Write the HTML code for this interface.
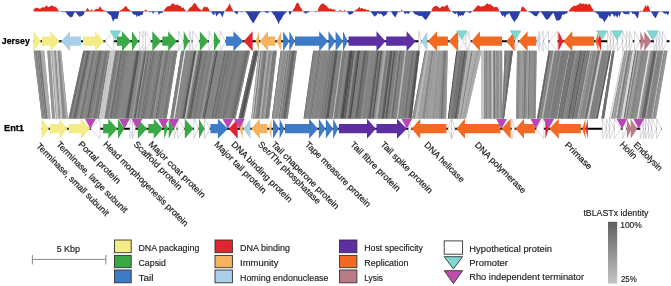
<!DOCTYPE html>
<html><head><meta charset="utf-8"><title>Genome comparison</title>
<style>html,body{margin:0;padding:0;background:#fff}svg{display:block}</style></head>
<body>
<svg width="671" height="286" viewBox="0 0 671 286" font-family="'Liberation Sans', sans-serif" fill="#1a1a1a">
<rect width="671" height="286" fill="#fff"/>
<g id="skew" shape-rendering="auto">
<rect x="60.04" y="11.45" width="0.45" height="0.7" fill="#2c3ea8"/>
<rect x="61.98" y="11.45" width="23.40" height="0.7" fill="#2c3ea8"/>
<rect x="106.24" y="11.45" width="13.31" height="0.7" fill="#2c3ea8"/>
<rect x="131.18" y="11.45" width="12.67" height="0.7" fill="#2c3ea8"/>
<rect x="148.32" y="11.45" width="14.90" height="0.7" fill="#2c3ea8"/>
<rect x="186.32" y="11.45" width="1.49" height="0.7" fill="#2c3ea8"/>
<rect x="210.16" y="11.45" width="14.52" height="0.7" fill="#2c3ea8"/>
<rect x="233.63" y="11.45" width="4.92" height="0.7" fill="#2c3ea8"/>
<rect x="239.44" y="11.45" width="4.62" height="0.7" fill="#2c3ea8"/>
<rect x="244.96" y="11.45" width="17.44" height="0.7" fill="#2c3ea8"/>
<rect x="263.29" y="11.45" width="6.26" height="0.7" fill="#2c3ea8"/>
<rect x="270.44" y="11.45" width="16.69" height="0.7" fill="#2c3ea8"/>
<rect x="288.32" y="11.45" width="4.17" height="0.7" fill="#2c3ea8"/>
<rect x="302.93" y="11.45" width="7.15" height="0.7" fill="#2c3ea8"/>
<rect x="314.47" y="11.45" width="2.98" height="0.7" fill="#2c3ea8"/>
<rect x="336.83" y="11.45" width="2.24" height="0.7" fill="#2c3ea8"/>
<rect x="342.04" y="11.45" width="1.49" height="0.7" fill="#2c3ea8"/>
<rect x="346.51" y="11.45" width="7.45" height="0.7" fill="#2c3ea8"/>
<rect x="370.36" y="11.45" width="18.33" height="0.7" fill="#2c3ea8"/>
<rect x="389.88" y="11.45" width="10.86" height="0.7" fill="#2c3ea8"/>
<rect x="402.98" y="11.45" width="7.75" height="0.7" fill="#2c3ea8"/>
<rect x="412.52" y="11.45" width="18.78" height="0.7" fill="#2c3ea8"/>
<rect x="451.86" y="11.45" width="20.42" height="0.7" fill="#2c3ea8"/>
<rect x="499.24" y="11.45" width="21.31" height="0.7" fill="#2c3ea8"/>
<rect x="528.00" y="11.45" width="40.24" height="0.7" fill="#2c3ea8"/>
<rect x="594.03" y="11.45" width="45.64" height="0.7" fill="#2c3ea8"/>
<rect x="641.09" y="11.45" width="1.14" height="0.7" fill="#2c3ea8"/>
<rect x="650.39" y="11.45" width="9.87" height="0.7" fill="#2c3ea8"/>
<rect x="661.41" y="11.45" width="7.59" height="0.7" fill="#2c3ea8"/>
<polygon points="33.66,11.62 33.66,9.24 36.20,7.45 38.43,8.20 39.92,8.94 42.16,7.15 44.39,7.45 46.63,5.22 48.12,7.15 50.35,6.26 51.85,5.22 54.08,6.71 55.57,6.71 57.06,8.20 58.55,10.73 60.04,11.62 60.04,11.62" fill="#e2261c"/>
<polygon points="60.49,11.62 60.49,11.62 61.08,10.43 61.98,11.62 61.98,11.62" fill="#e2261c"/>
<polygon points="65.26,11.62 65.26,11.62 67.05,14.16 68.98,16.10 70.47,17.59 72.71,16.39 74.20,12.67 75.69,11.92 77.18,14.16 79.42,16.69 81.65,16.10 83.44,14.90 84.63,11.92 84.63,11.62" fill="#2c3ea8"/>
<polygon points="85.38,11.62 85.38,11.62 86.87,8.64 87.61,7.75 89.10,10.43 90.59,10.73 91.79,8.94 92.83,11.18 94.32,10.13 96.55,8.64 98.04,9.24 100.28,6.26 101.77,9.24 104.01,10.43 105.50,10.43 106.24,11.62 106.24,11.62" fill="#e2261c"/>
<polygon points="106.99,11.62 106.99,12.22 109.22,14.61 110.71,14.90 112.20,19.37 113.25,22.06 114.44,19.08 115.93,18.63 117.42,19.37 118.91,13.41 119.21,11.62 119.21,11.62" fill="#2c3ea8"/>
<polygon points="119.55,11.62 119.55,11.62 120.00,9.69 121.49,10.43 122.24,8.94 123.73,8.20 125.66,5.96 126.71,6.71 128.20,9.24 129.69,9.69 131.18,11.62 131.18,11.62" fill="#e2261c"/>
<polygon points="131.92,11.62 131.92,11.62 132.67,13.41 134.16,14.90 135.65,14.61 136.69,17.59 137.59,14.90 139.08,16.69 140.12,14.90 142.35,14.90 143.10,12.67 143.55,11.62 143.55,11.62" fill="#2c3ea8"/>
<polygon points="143.85,11.62 143.85,11.62 144.59,10.43 146.08,9.24 146.83,10.73 148.32,11.62 148.32,11.62" fill="#e2261c"/>
<polygon points="152.04,11.62 152.04,11.62 153.08,14.16 153.98,11.92 155.02,11.62 155.02,11.62" fill="#2c3ea8"/>
<polygon points="158.00,11.62 158.00,11.62 158.75,15.20 159.64,13.41 160.98,13.11 162.47,12.67 162.92,11.62 162.92,11.62" fill="#2c3ea8"/>
<polygon points="163.22,11.62 163.22,11.62 164.71,9.24 166.20,7.45 167.69,6.26 169.93,5.96 171.42,4.47 172.91,2.98 174.40,4.47 175.89,5.22 177.38,4.17 178.87,5.66 180.36,5.96 181.85,7.75 183.34,7.45 184.83,9.69 186.32,11.62 186.32,11.62" fill="#e2261c"/>
<polygon points="187.81,11.62 187.81,11.62 188.55,9.24 190.04,7.45 191.54,6.71 193.03,4.77 194.52,2.68 196.01,4.17 197.50,6.71 198.99,8.20 200.48,9.69 201.97,10.13 203.46,7.45 204.65,6.26 205.69,7.45 207.18,6.71 208.67,8.94 210.16,11.62 210.16,11.62" fill="#e2261c"/>
<polygon points="211.21,11.62 211.21,11.62 212.40,13.41 213.14,14.90 214.63,14.16 214.63,11.62" fill="#2c3ea8"/>
<polygon points="214.55,11.62 214.55,14.16 215.00,12.22 216.49,16.39 217.98,14.16 219.47,12.67 220.96,14.16 222.45,17.59 223.64,13.41 224.24,11.62 224.24,11.62" fill="#2c3ea8"/>
<polygon points="224.69,11.62 224.69,11.62 226.18,8.94 227.67,7.15 229.16,4.47 229.90,2.98 230.65,5.96 232.14,8.94 233.63,11.62 233.63,11.62" fill="#e2261c"/>
<polygon points="234.08,11.62 234.08,11.62 235.86,13.41 237.35,14.61 238.10,11.92 238.10,11.62" fill="#2c3ea8"/>
<polygon points="238.55,11.62 238.55,11.62 238.99,10.73 239.44,11.62 239.44,11.62" fill="#e2261c"/>
<polygon points="244.06,11.62 244.06,11.62 244.51,10.88 244.96,11.62 244.96,11.62" fill="#e2261c"/>
<polygon points="245.55,11.62 245.55,11.62 247.04,13.41 248.53,15.65 250.02,18.63 251.51,20.86 253.00,23.55 254.05,22.35 255.24,20.12 256.73,17.59 258.22,14.90 259.71,12.67 260.45,11.62 260.45,11.62" fill="#2c3ea8"/>
<polygon points="262.39,11.62 262.39,11.62 262.84,10.88 263.29,11.62 263.29,11.62" fill="#e2261c"/>
<polygon points="264.93,11.62 264.93,11.62 266.42,13.11 267.91,12.67 269.40,11.62 269.40,11.62" fill="#2c3ea8"/>
<polygon points="269.55,11.62 269.55,11.62 269.99,10.88 270.44,11.62 270.44,11.62" fill="#e2261c"/>
<polygon points="271.63,11.62 271.63,11.62 273.12,14.16 274.61,15.65 276.10,18.63 277.59,21.61 278.79,24.59 279.83,20.86 281.32,19.37 282.81,16.39 284.30,14.16 285.79,12.67 286.54,11.62 286.54,11.62" fill="#2c3ea8"/>
<polygon points="287.13,11.62 287.13,11.62 287.73,10.43 288.32,11.62 288.32,11.62" fill="#e2261c"/>
<polygon points="288.77,11.62 288.77,11.62 289.52,14.90 291.01,13.41 291.75,11.62 291.75,11.62" fill="#2c3ea8"/>
<polygon points="292.50,11.62 292.50,11.62 293.24,9.24 294.73,7.45 296.22,3.73 297.71,2.68 299.20,4.17 299.95,6.71 301.44,8.20 302.93,11.62 302.93,11.62" fill="#e2261c"/>
<polygon points="303.67,11.62 303.67,11.62 305.16,13.71 306.65,13.11 308.14,12.22 309.63,11.62 309.63,11.62" fill="#2c3ea8"/>
<polygon points="310.08,11.62 310.08,11.62 310.53,10.88 310.98,11.62 310.98,11.62" fill="#e2261c"/>
<polygon points="312.76,11.62 312.76,11.62 313.36,10.88 313.96,11.62 313.96,11.62" fill="#e2261c"/>
<polygon points="310.75,11.62 310.75,11.62 311.49,11.03 312.98,11.18 314.47,11.62 314.47,11.62" fill="#e2261c"/>
<polygon points="317.45,11.62 317.45,11.62 318.20,8.94 319.69,5.96 321.18,4.17 323.11,3.28 324.90,4.77 326.39,5.66 327.88,7.45 329.37,8.94 330.86,8.20 332.35,9.69 333.85,8.94 335.34,10.13 336.83,11.62 336.83,11.62" fill="#e2261c"/>
<polygon points="339.06,11.62 339.06,11.62 339.81,9.69 341.30,10.43 342.04,11.62 342.04,11.62" fill="#e2261c"/>
<polygon points="343.53,11.62 343.53,11.62 344.28,9.69 345.77,11.18 346.51,11.62 346.51,11.62" fill="#e2261c"/>
<polygon points="347.26,11.62 347.26,11.62 348.75,14.16 349.94,14.90 350.98,13.71 352.03,14.61 352.92,12.67 353.52,11.62 353.52,11.62" fill="#2c3ea8"/>
<polygon points="353.96,11.62 353.96,11.62 355.45,10.13 356.94,9.24 358.44,8.20 359.48,6.71 360.67,8.64 362.16,7.75 363.65,9.24 365.14,8.64 366.63,10.13 368.12,9.69 369.61,10.73 370.36,11.62 370.36,11.62" fill="#e2261c"/>
<polygon points="370.36,11.62 370.36,11.62 371.85,13.11 373.34,14.90 374.38,16.69 375.57,15.65 376.77,14.90 377.81,12.67 379.30,14.16 380.79,13.41 382.28,14.90 383.77,16.69 385.26,14.90 386.75,14.16 387.50,11.62 387.50,11.62" fill="#2c3ea8"/>
<polygon points="388.69,11.62 388.69,11.62 389.28,10.88 389.88,11.62 389.88,11.62" fill="#e2261c"/>
<polygon points="391.22,11.62 391.22,11.62 392.71,14.16 394.20,16.10 395.25,17.59 396.14,15.65 397.18,13.41 397.93,11.62 397.93,11.62" fill="#2c3ea8"/>
<polygon points="400.75,11.62 400.75,11.62 401.79,9.24 402.98,11.62 402.98,11.62" fill="#e2261c"/>
<polygon points="403.73,11.62 403.73,11.62 405.22,14.61 406.71,12.67 408.20,14.16 409.69,12.22 410.43,11.62 410.43,11.62" fill="#2c3ea8"/>
<polygon points="410.73,11.62 410.73,11.62 411.62,10.73 412.52,11.62 412.52,11.62" fill="#e2261c"/>
<polygon points="412.67,11.62 412.67,11.62 414.16,13.41 415.65,14.61 417.14,14.90 418.63,15.65 420.12,16.10 421.61,15.65 423.10,17.14 424.59,19.08 425.63,20.12 426.83,18.63 428.32,16.39 429.81,14.16 431.00,11.62 431.00,11.62" fill="#2c3ea8"/>
<polygon points="431.30,11.62 431.30,11.62 432.04,8.94 433.53,6.71 435.02,6.26 436.51,5.66 438.00,6.71 439.49,8.20 440.98,7.15 442.47,5.96 443.96,6.71 445.45,6.26 446.94,4.47 447.99,5.96 449.18,9.24 450.67,10.73 451.86,11.62 451.86,11.62" fill="#e2261c"/>
<polygon points="452.16,11.62 452.16,11.62 453.65,13.11 455.14,14.16 456.63,12.67 457.82,14.90 458.42,17.59 459.31,14.90 460.36,16.10 461.85,14.90 463.34,15.65 464.38,13.41 465.57,11.62 465.57,11.62" fill="#2c3ea8"/>
<polygon points="467.81,11.62 467.81,11.62 469.30,13.11 470.79,12.67 471.83,11.62 471.83,11.62" fill="#2c3ea8"/>
<polygon points="472.28,11.62 472.28,11.62 473.77,9.69 475.26,8.20 476.75,6.26 478.24,5.22 479.73,6.26 481.22,6.71 482.71,5.96 484.20,6.26 485.69,4.77 487.18,3.28 488.67,4.47 490.16,4.17 491.21,4.47 491.21,11.62" fill="#e2261c"/>
<polygon points="490.15,11.62 490.15,4.32 491.49,5.66 492.98,6.26 494.47,7.45 495.96,6.71 497.45,7.15 498.64,9.24 499.24,11.62 499.24,11.62" fill="#e2261c"/>
<polygon points="500.13,11.62 500.13,11.62 501.18,14.16 502.67,16.39 503.71,14.90 504.90,17.88 506.10,14.90 507.59,14.16 509.08,13.11 510.57,15.65 512.06,18.63 513.55,20.86 514.59,22.35 515.63,20.12 517.12,18.63 518.61,15.65 519.81,12.67 520.25,11.62 520.25,11.62" fill="#2c3ea8"/>
<polygon points="520.55,11.62 520.55,11.62 521.30,8.20 522.49,6.26 523.98,7.45 525.47,8.94 526.96,10.73 528.00,11.62 528.00,11.62" fill="#e2261c"/>
<polygon points="529.49,11.62 529.49,11.62 530.98,13.11 532.47,13.71 533.52,15.20 534.71,15.65 536.20,16.39 537.69,14.90 538.88,12.67 539.93,11.62 539.93,11.62" fill="#2c3ea8"/>
<polygon points="540.67,11.62 540.67,11.62 542.16,13.41 543.65,15.65 545.14,17.88 546.63,20.12 547.82,19.37 549.31,17.88 550.80,15.65 552.30,13.71 553.34,12.67 554.38,14.90 555.57,18.63 556.77,20.86 558.26,20.57 559.75,20.12 561.24,17.88 562.28,14.16 563.77,14.90 565.26,13.41 566.75,13.71 567.79,11.62 567.79,11.62" fill="#2c3ea8"/>
<polygon points="568.24,11.62 568.24,11.62 569.73,9.69 571.22,7.45 572.71,6.71 574.20,5.22 574.95,5.96 575.99,6.11 575.99,11.62" fill="#e2261c"/>
<polygon points="575.00,11.73 575.00,6.44 576.43,5.44 577.86,5.01 579.29,4.01 580.44,2.86 581.87,4.29 583.30,3.15 584.73,4.58 586.16,3.58 587.59,5.01 589.02,3.58 590.45,5.01 591.88,7.87 593.31,10.01 594.03,11.73 594.03,11.73" fill="#e2261c"/>
<polygon points="594.74,11.73 594.74,11.73 596.46,13.16 598.18,14.31 599.61,17.88 601.04,18.31 602.90,19.31 604.33,22.60 605.76,20.03 607.19,17.88 608.62,15.02 610.05,17.17 611.48,13.59 612.91,14.31 614.34,16.88 615.77,15.02 617.20,17.88 618.63,14.31 619.64,17.17 620.49,13.59 621.07,11.73 621.07,11.73" fill="#2c3ea8"/>
<polygon points="622.21,11.73 622.21,11.73 623.64,13.59 625.07,14.02 626.50,14.59 627.93,13.59 629.08,15.02 629.65,11.73 629.65,11.73" fill="#2c3ea8"/>
<polygon points="631.51,11.73 631.51,11.73 632.51,14.31 633.66,13.59 634.80,14.31 635.80,15.74 636.80,17.17 637.95,18.60 638.66,14.31 639.09,11.73 639.09,11.73" fill="#2c3ea8"/>
<polygon points="639.66,11.73 639.66,11.73 640.52,10.30 641.09,11.73 641.09,11.73" fill="#e2261c"/>
<polygon points="642.24,11.73 642.24,11.73 643.38,9.30 644.38,7.87 645.39,5.01 646.53,7.15 647.68,5.01 648.68,6.44 649.39,8.87 650.39,11.73 650.39,11.73" fill="#e2261c"/>
<polygon points="650.82,11.73 650.82,11.73 652.25,13.59 653.40,15.74 654.83,17.45 655.83,17.88 656.83,15.74 657.98,13.16 658.69,11.73 658.69,11.73" fill="#2c3ea8"/>
<polygon points="660.26,11.73 660.26,11.73 660.84,11.02 661.41,11.73 661.41,11.73" fill="#e2261c"/>
<polygon points="662.55,11.73 662.55,11.73 663.98,13.16 665.41,14.02 666.56,13.16 667.99,15.45 668.71,13.59 669.13,11.73 669.13,11.73" fill="#2c3ea8"/>
</g>
<g id="band">
<polygon points="33.60,50.80 44.00,50.80 50.50,118.50 41.80,118.50" fill="#8d8d8d"/>
<polygon points="33.60,50.80 34.24,50.80 42.38,118.50 41.80,118.50" fill="#909090"/>
<polygon points="33.99,50.80 34.45,50.80 42.55,118.50 42.13,118.50" fill="#8e8e8e"/>
<polygon points="34.20,50.80 34.60,50.80 42.68,118.50 42.30,118.50" fill="#929292"/>
<polygon points="34.35,50.80 35.42,50.80 43.36,118.50 42.43,118.50" fill="#919191"/>
<polygon points="35.17,50.80 37.22,50.80 44.87,118.50 43.11,118.50" fill="#848484"/>
<polygon points="36.97,50.80 37.65,50.80 45.23,118.50 44.62,118.50" fill="#a9a9a9"/>
<polygon points="37.40,50.80 38.36,50.80 45.82,118.50 44.98,118.50" fill="#686868"/>
<polygon points="38.11,50.80 39.13,50.80 46.46,118.50 45.57,118.50" fill="#929292"/>
<polygon points="38.88,50.80 39.42,50.80 46.71,118.50 46.21,118.50" fill="#8b8b8b"/>
<polygon points="39.17,50.80 40.62,50.80 47.71,118.50 46.46,118.50" fill="#6e6e6e"/>
<polygon points="40.37,50.80 44.25,50.80 50.75,118.50 47.46,118.50" fill="#ababab"/>
<polygon points="47.30,50.80 56.00,50.80 60.50,118.50 52.20,118.50" fill="#959595"/>
<polygon points="47.30,50.80 49.11,50.80 53.94,118.50 52.20,118.50" fill="#939393"/>
<polygon points="48.86,50.80 49.71,50.80 54.51,118.50 53.69,118.50" fill="#9c9c9c"/>
<polygon points="49.46,50.80 50.70,50.80 55.45,118.50 54.26,118.50" fill="#999999"/>
<polygon points="50.45,50.80 51.60,50.80 56.31,118.50 55.20,118.50" fill="#dedede"/>
<polygon points="51.35,50.80 51.87,50.80 56.57,118.50 56.06,118.50" fill="#999999"/>
<polygon points="51.62,50.80 52.18,50.80 56.86,118.50 56.32,118.50" fill="#959595"/>
<polygon points="51.93,50.80 54.31,50.80 58.90,118.50 56.61,118.50" fill="#c2c2c2"/>
<polygon points="54.06,50.80 55.58,50.80 60.11,118.50 58.65,118.50" fill="#969696"/>
<polygon points="55.33,50.80 56.25,50.80 60.75,118.50 59.86,118.50" fill="#888888"/>
<polygon points="56.00,50.80 58.00,50.80 62.50,118.50 60.50,118.50" fill="#c8c8c8"/>
<polygon points="56.00,50.80 57.64,50.80 62.14,118.50 60.50,118.50" fill="#bfbfbf"/>
<polygon points="57.39,50.80 58.25,50.80 62.75,118.50 61.89,118.50" fill="#c2c2c2"/>
<polygon points="58.00,50.80 60.90,50.80 67.70,118.50 62.50,118.50" fill="#959595"/>
<polygon points="58.00,50.80 58.43,50.80 63.07,118.50 62.50,118.50" fill="#919191"/>
<polygon points="58.18,50.80 59.62,50.80 65.22,118.50 62.82,118.50" fill="#898989"/>
<polygon points="59.37,50.80 60.18,50.80 66.20,118.50 64.97,118.50" fill="#939393"/>
<polygon points="59.93,50.80 60.99,50.80 67.66,118.50 65.95,118.50" fill="#b3b3b3"/>
<polygon points="60.74,50.80 61.15,50.80 67.95,118.50 67.41,118.50" fill="#8e8e8e"/>
<polygon points="83.30,50.80 110.00,50.80 99.00,118.50 68.50,118.50" fill="#838383"/>
<polygon points="83.30,50.80 83.87,50.80 69.12,118.50 68.50,118.50" fill="#8d8d8d"/>
<polygon points="83.62,50.80 85.77,50.80 71.28,118.50 68.87,118.50" fill="#6f6f6f"/>
<polygon points="85.52,50.80 86.90,50.80 72.58,118.50 71.03,118.50" fill="#888888"/>
<polygon points="86.65,50.80 87.21,50.80 72.93,118.50 72.33,118.50" fill="#797979"/>
<polygon points="86.96,50.80 87.44,50.80 73.19,118.50 72.68,118.50" fill="#7f7f7f"/>
<polygon points="87.19,50.80 87.59,50.80 73.36,118.50 72.94,118.50" fill="#7d7d7d"/>
<polygon points="87.34,50.80 87.99,50.80 73.82,118.50 73.11,118.50" fill="#868686"/>
<polygon points="87.74,50.80 88.42,50.80 74.31,118.50 73.57,118.50" fill="#555555"/>
<polygon points="88.17,50.80 89.38,50.80 75.41,118.50 74.06,118.50" fill="#646464"/>
<polygon points="89.13,50.80 89.71,50.80 75.79,118.50 75.16,118.50" fill="#616161"/>
<polygon points="89.46,50.80 90.97,50.80 77.22,118.50 75.54,118.50" fill="#7e7e7e"/>
<polygon points="90.72,50.80 91.08,50.80 77.35,118.50 76.97,118.50" fill="#878787"/>
<polygon points="90.83,50.80 91.22,50.80 77.52,118.50 77.10,118.50" fill="#898989"/>
<polygon points="90.97,50.80 92.06,50.80 78.47,118.50 77.27,118.50" fill="#909090"/>
<polygon points="91.81,50.80 93.71,50.80 80.35,118.50 78.22,118.50" fill="#909090"/>
<polygon points="93.46,50.80 94.17,50.80 80.89,118.50 80.10,118.50" fill="#5d5d5d"/>
<polygon points="93.92,50.80 94.27,50.80 81.00,118.50 80.64,118.50" fill="#838383"/>
<polygon points="94.02,50.80 95.04,50.80 81.88,118.50 80.75,118.50" fill="#737373"/>
<polygon points="94.79,50.80 96.81,50.80 83.89,118.50 81.63,118.50" fill="#858585"/>
<polygon points="96.56,50.80 97.82,50.80 85.06,118.50 83.64,118.50" fill="#8c8c8c"/>
<polygon points="97.57,50.80 98.24,50.80 85.53,118.50 84.81,118.50" fill="#808080"/>
<polygon points="97.99,50.80 99.83,50.80 87.35,118.50 85.28,118.50" fill="#838383"/>
<polygon points="99.58,50.80 101.04,50.80 88.73,118.50 87.10,118.50" fill="#5f5f5f"/>
<polygon points="100.79,50.80 101.13,50.80 88.83,118.50 88.48,118.50" fill="#6d6d6d"/>
<polygon points="100.88,50.80 101.78,50.80 89.57,118.50 88.58,118.50" fill="#808080"/>
<polygon points="101.53,50.80 102.41,50.80 90.30,118.50 89.32,118.50" fill="#777777"/>
<polygon points="102.16,50.80 103.26,50.80 91.27,118.50 90.05,118.50" fill="#7f7f7f"/>
<polygon points="103.01,50.80 105.74,50.80 94.10,118.50 91.02,118.50" fill="#878787"/>
<polygon points="105.49,50.80 106.49,50.80 94.96,118.50 93.85,118.50" fill="#727272"/>
<polygon points="106.24,50.80 108.03,50.80 96.71,118.50 94.71,118.50" fill="#747474"/>
<polygon points="107.78,50.80 108.92,50.80 97.73,118.50 96.46,118.50" fill="#8d8d8d"/>
<polygon points="108.67,50.80 109.89,50.80 98.84,118.50 97.48,118.50" fill="#7f7f7f"/>
<polygon points="109.64,50.80 110.25,50.80 99.25,118.50 98.59,118.50" fill="#646464"/>
<polygon points="110.00,50.80 115.50,50.80 104.50,118.50 99.00,118.50" fill="#c8c8c8"/>
<polygon points="110.00,50.80 111.32,50.80 100.32,118.50 99.00,118.50" fill="#cccccc"/>
<polygon points="111.07,50.80 112.14,50.80 101.14,118.50 100.07,118.50" fill="#bcbcbc"/>
<polygon points="111.89,50.80 113.58,50.80 102.58,118.50 100.89,118.50" fill="#cbcbcb"/>
<polygon points="113.33,50.80 115.75,50.80 104.75,118.50 102.33,118.50" fill="#c9c9c9"/>
<polygon points="115.50,50.80 177.30,50.80 166.50,118.50 104.50,118.50" fill="#818181"/>
<polygon points="115.50,50.80 115.87,50.80 104.87,118.50 104.50,118.50" fill="#838383"/>
<polygon points="115.62,50.80 117.07,50.80 106.08,118.50 104.62,118.50" fill="#838383"/>
<polygon points="116.82,50.80 117.45,50.80 106.46,118.50 105.83,118.50" fill="#6f6f6f"/>
<polygon points="117.20,50.80 117.48,50.80 106.49,118.50 106.21,118.50" fill="#5f5f5f"/>
<polygon points="117.23,50.80 119.51,50.80 108.53,118.50 106.24,118.50" fill="#7e7e7e"/>
<polygon points="119.26,50.80 121.00,50.80 110.01,118.50 108.28,118.50" fill="#919191"/>
<polygon points="120.75,50.80 121.11,50.80 110.13,118.50 109.76,118.50" fill="#828282"/>
<polygon points="120.86,50.80 122.10,50.80 111.12,118.50 109.88,118.50" fill="#6a6a6a"/>
<polygon points="121.85,50.80 123.16,50.80 112.18,118.50 110.87,118.50" fill="#757575"/>
<polygon points="122.91,50.80 123.83,50.80 112.86,118.50 111.93,118.50" fill="#808080"/>
<polygon points="123.58,50.80 124.36,50.80 113.38,118.50 112.61,118.50" fill="#757575"/>
<polygon points="124.11,50.80 124.50,50.80 113.53,118.50 113.13,118.50" fill="#7e7e7e"/>
<polygon points="124.25,50.80 125.01,50.80 114.04,118.50 113.28,118.50" fill="#929292"/>
<polygon points="124.76,50.80 125.13,50.80 114.16,118.50 113.79,118.50" fill="#707070"/>
<polygon points="124.88,50.80 125.39,50.80 114.42,118.50 113.91,118.50" fill="#626262"/>
<polygon points="125.14,50.80 125.57,50.80 114.60,118.50 114.17,118.50" fill="#7a7a7a"/>
<polygon points="125.32,50.80 127.79,50.80 116.83,118.50 114.35,118.50" fill="#7a7a7a"/>
<polygon points="127.54,50.80 128.07,50.80 117.11,118.50 116.58,118.50" fill="#8e8e8e"/>
<polygon points="127.82,50.80 128.90,50.80 117.94,118.50 116.86,118.50" fill="#7f7f7f"/>
<polygon points="128.65,50.80 135.90,50.80 124.96,118.50 117.69,118.50" fill="#858585"/>
<polygon points="135.65,50.80 137.01,50.80 126.08,118.50 124.71,118.50" fill="#7b7b7b"/>
<polygon points="136.76,50.80 139.76,50.80 128.84,118.50 125.83,118.50" fill="#575757"/>
<polygon points="139.51,50.80 142.57,50.80 131.65,118.50 128.59,118.50" fill="#858585"/>
<polygon points="142.32,50.80 144.37,50.80 133.47,118.50 131.40,118.50" fill="#999999"/>
<polygon points="144.12,50.80 144.51,50.80 133.60,118.50 133.22,118.50" fill="#585858"/>
<polygon points="144.26,50.80 145.07,50.80 134.16,118.50 133.35,118.50" fill="#7f7f7f"/>
<polygon points="144.82,50.80 145.58,50.80 134.67,118.50 133.91,118.50" fill="#787878"/>
<polygon points="145.33,50.80 146.72,50.80 135.82,118.50 134.42,118.50" fill="#5a5a5a"/>
<polygon points="146.47,50.80 147.30,50.80 136.40,118.50 135.57,118.50" fill="#8d8d8d"/>
<polygon points="147.05,50.80 147.69,50.80 136.79,118.50 136.15,118.50" fill="#afafaf"/>
<polygon points="147.44,50.80 149.39,50.80 138.50,118.50 136.54,118.50" fill="#787878"/>
<polygon points="149.14,50.80 149.63,50.80 138.74,118.50 138.25,118.50" fill="#5e5e5e"/>
<polygon points="149.38,50.80 152.26,50.80 141.38,118.50 138.49,118.50" fill="#858585"/>
<polygon points="152.01,50.80 152.57,50.80 141.69,118.50 141.13,118.50" fill="#4d4d4d"/>
<polygon points="152.32,50.80 153.36,50.80 142.48,118.50 141.44,118.50" fill="#888888"/>
<polygon points="153.11,50.80 153.46,50.80 142.59,118.50 142.23,118.50" fill="#909090"/>
<polygon points="153.21,50.80 153.55,50.80 142.67,118.50 142.34,118.50" fill="#767676"/>
<polygon points="153.30,50.80 154.01,50.80 143.13,118.50 142.42,118.50" fill="#6b6b6b"/>
<polygon points="153.76,50.80 155.05,50.80 144.17,118.50 142.88,118.50" fill="#757575"/>
<polygon points="154.80,50.80 155.50,50.80 144.62,118.50 143.92,118.50" fill="#7f7f7f"/>
<polygon points="155.25,50.80 156.28,50.80 145.41,118.50 144.37,118.50" fill="#828282"/>
<polygon points="156.03,50.80 156.69,50.80 145.82,118.50 145.16,118.50" fill="#7a7a7a"/>
<polygon points="156.44,50.80 159.72,50.80 148.86,118.50 145.57,118.50" fill="#858585"/>
<polygon points="159.47,50.80 160.36,50.80 149.50,118.50 148.61,118.50" fill="#818181"/>
<polygon points="160.11,50.80 160.64,50.80 149.78,118.50 149.25,118.50" fill="#656565"/>
<polygon points="160.39,50.80 161.48,50.80 150.63,118.50 149.53,118.50" fill="#888888"/>
<polygon points="161.23,50.80 161.69,50.80 150.84,118.50 150.38,118.50" fill="#6b6b6b"/>
<polygon points="161.44,50.80 162.07,50.80 151.22,118.50 150.59,118.50" fill="#555555"/>
<polygon points="161.82,50.80 162.95,50.80 152.10,118.50 150.97,118.50" fill="#7b7b7b"/>
<polygon points="162.70,50.80 163.71,50.80 152.86,118.50 151.85,118.50" fill="#6a6a6a"/>
<polygon points="163.46,50.80 163.74,50.80 152.89,118.50 152.61,118.50" fill="#8a8a8a"/>
<polygon points="163.49,50.80 165.15,50.80 154.31,118.50 152.64,118.50" fill="#969696"/>
<polygon points="164.90,50.80 166.12,50.80 155.28,118.50 154.06,118.50" fill="#838383"/>
<polygon points="165.87,50.80 166.87,50.80 156.03,118.50 155.03,118.50" fill="#8b8b8b"/>
<polygon points="166.62,50.80 167.30,50.80 156.47,118.50 155.78,118.50" fill="#656565"/>
<polygon points="167.05,50.80 167.33,50.80 156.50,118.50 156.22,118.50" fill="#626262"/>
<polygon points="167.08,50.80 169.69,50.80 158.86,118.50 156.25,118.50" fill="#7a7a7a"/>
<polygon points="169.44,50.80 169.76,50.80 158.93,118.50 158.61,118.50" fill="#7e7e7e"/>
<polygon points="169.51,50.80 170.02,50.80 159.20,118.50 158.68,118.50" fill="#8f8f8f"/>
<polygon points="169.77,50.80 170.69,50.80 159.87,118.50 158.95,118.50" fill="#8c8c8c"/>
<polygon points="170.44,50.80 171.23,50.80 160.41,118.50 159.62,118.50" fill="#868686"/>
<polygon points="170.98,50.80 171.94,50.80 161.12,118.50 160.16,118.50" fill="#787878"/>
<polygon points="171.69,50.80 173.69,50.80 162.87,118.50 160.87,118.50" fill="#8a8a8a"/>
<polygon points="173.44,50.80 174.22,50.80 163.41,118.50 162.62,118.50" fill="#7f7f7f"/>
<polygon points="173.97,50.80 176.64,50.80 165.84,118.50 163.16,118.50" fill="#7a7a7a"/>
<polygon points="176.39,50.80 176.72,50.80 165.92,118.50 165.59,118.50" fill="#616161"/>
<polygon points="176.47,50.80 177.12,50.80 166.32,118.50 165.67,118.50" fill="#8e8e8e"/>
<polygon points="176.87,50.80 177.55,50.80 166.75,118.50 166.07,118.50" fill="#828282"/>
<polygon points="181.30,50.80 250.10,50.80 235.40,118.50 170.30,118.50" fill="#818181"/>
<polygon points="181.30,50.80 181.80,50.80 170.79,118.50 170.30,118.50" fill="#848484"/>
<polygon points="181.55,50.80 182.66,50.80 171.60,118.50 170.54,118.50" fill="#7e7e7e"/>
<polygon points="182.41,50.80 182.85,50.80 171.78,118.50 171.35,118.50" fill="#6f6f6f"/>
<polygon points="182.60,50.80 183.92,50.80 172.79,118.50 171.53,118.50" fill="#838383"/>
<polygon points="183.67,50.80 184.43,50.80 173.28,118.50 172.54,118.50" fill="#818181"/>
<polygon points="184.18,50.80 184.66,50.80 173.49,118.50 173.03,118.50" fill="#797979"/>
<polygon points="184.41,50.80 185.04,50.80 173.86,118.50 173.24,118.50" fill="#838383"/>
<polygon points="184.79,50.80 185.36,50.80 174.16,118.50 173.61,118.50" fill="#7d7d7d"/>
<polygon points="185.11,50.80 186.37,50.80 175.11,118.50 173.91,118.50" fill="#8e8e8e"/>
<polygon points="186.12,50.80 187.32,50.80 176.01,118.50 174.86,118.50" fill="#858585"/>
<polygon points="187.07,50.80 187.36,50.80 176.05,118.50 175.76,118.50" fill="#797979"/>
<polygon points="187.11,50.80 187.40,50.80 176.09,118.50 175.80,118.50" fill="#8d8d8d"/>
<polygon points="187.15,50.80 187.80,50.80 176.46,118.50 175.84,118.50" fill="#888888"/>
<polygon points="187.55,50.80 191.45,50.80 179.92,118.50 176.21,118.50" fill="#898989"/>
<polygon points="191.20,50.80 191.51,50.80 179.97,118.50 179.67,118.50" fill="#868686"/>
<polygon points="191.26,50.80 192.23,50.80 180.66,118.50 179.72,118.50" fill="#858585"/>
<polygon points="191.98,50.80 194.14,50.80 182.46,118.50 180.41,118.50" fill="#7e7e7e"/>
<polygon points="193.89,50.80 194.30,50.80 182.62,118.50 182.21,118.50" fill="#8b8b8b"/>
<polygon points="194.05,50.80 196.54,50.80 184.73,118.50 182.37,118.50" fill="#565656"/>
<polygon points="196.29,50.80 198.38,50.80 186.47,118.50 184.48,118.50" fill="#b3b3b3"/>
<polygon points="198.13,50.80 198.62,50.80 186.71,118.50 186.22,118.50" fill="#8b8b8b"/>
<polygon points="198.37,50.80 199.70,50.80 187.72,118.50 186.46,118.50" fill="#868686"/>
<polygon points="199.45,50.80 200.06,50.80 188.06,118.50 187.47,118.50" fill="#707070"/>
<polygon points="199.81,50.80 200.74,50.80 188.71,118.50 187.81,118.50" fill="#636363"/>
<polygon points="200.49,50.80 201.10,50.80 189.05,118.50 188.46,118.50" fill="#888888"/>
<polygon points="200.85,50.80 202.17,50.80 190.06,118.50 188.80,118.50" fill="#515151"/>
<polygon points="201.92,50.80 203.81,50.80 191.61,118.50 189.81,118.50" fill="#6c6c6c"/>
<polygon points="203.56,50.80 204.18,50.80 191.96,118.50 191.36,118.50" fill="#7f7f7f"/>
<polygon points="203.93,50.80 204.62,50.80 192.38,118.50 191.71,118.50" fill="#a5a5a5"/>
<polygon points="204.37,50.80 206.60,50.80 194.26,118.50 192.13,118.50" fill="#7a7a7a"/>
<polygon points="206.35,50.80 207.46,50.80 195.07,118.50 194.01,118.50" fill="#7c7c7c"/>
<polygon points="207.21,50.80 207.75,50.80 195.35,118.50 194.82,118.50" fill="#777777"/>
<polygon points="207.50,50.80 208.66,50.80 196.20,118.50 195.10,118.50" fill="#7d7d7d"/>
<polygon points="208.41,50.80 211.08,50.80 198.49,118.50 195.95,118.50" fill="#848484"/>
<polygon points="210.83,50.80 212.61,50.80 199.94,118.50 198.24,118.50" fill="#7b7b7b"/>
<polygon points="212.36,50.80 212.99,50.80 200.30,118.50 199.69,118.50" fill="#898989"/>
<polygon points="212.74,50.80 215.55,50.80 202.72,118.50 200.05,118.50" fill="#919191"/>
<polygon points="215.30,50.80 216.33,50.80 203.46,118.50 202.47,118.50" fill="#595959"/>
<polygon points="216.08,50.80 216.36,50.80 203.49,118.50 203.21,118.50" fill="#8e8e8e"/>
<polygon points="216.11,50.80 216.84,50.80 203.95,118.50 203.24,118.50" fill="#808080"/>
<polygon points="216.59,50.80 218.11,50.80 205.15,118.50 203.70,118.50" fill="#505050"/>
<polygon points="217.86,50.80 220.66,50.80 207.56,118.50 204.90,118.50" fill="#848484"/>
<polygon points="220.41,50.80 221.92,50.80 208.75,118.50 207.31,118.50" fill="#878787"/>
<polygon points="221.67,50.80 222.59,50.80 209.39,118.50 208.50,118.50" fill="#7e7e7e"/>
<polygon points="222.34,50.80 222.75,50.80 209.53,118.50 209.14,118.50" fill="#848484"/>
<polygon points="222.50,50.80 224.12,50.80 210.83,118.50 209.28,118.50" fill="#898989"/>
<polygon points="223.87,50.80 224.87,50.80 211.54,118.50 210.58,118.50" fill="#868686"/>
<polygon points="224.62,50.80 225.38,50.80 212.03,118.50 211.29,118.50" fill="#737373"/>
<polygon points="225.13,50.80 225.78,50.80 212.40,118.50 211.78,118.50" fill="#4e4e4e"/>
<polygon points="225.53,50.80 226.68,50.80 213.26,118.50 212.15,118.50" fill="#7c7c7c"/>
<polygon points="226.43,50.80 227.32,50.80 213.86,118.50 213.01,118.50" fill="#7c7c7c"/>
<polygon points="227.07,50.80 228.78,50.80 215.24,118.50 213.61,118.50" fill="#7d7d7d"/>
<polygon points="228.53,50.80 229.21,50.80 215.64,118.50 214.99,118.50" fill="#585858"/>
<polygon points="228.96,50.80 229.78,50.80 216.19,118.50 215.39,118.50" fill="#7a7a7a"/>
<polygon points="229.53,50.80 230.48,50.80 216.85,118.50 215.94,118.50" fill="#7c7c7c"/>
<polygon points="230.23,50.80 230.74,50.80 217.10,118.50 216.60,118.50" fill="#909090"/>
<polygon points="230.49,50.80 231.13,50.80 217.47,118.50 216.85,118.50" fill="#7c7c7c"/>
<polygon points="230.88,50.80 233.35,50.80 219.56,118.50 217.22,118.50" fill="#797979"/>
<polygon points="233.10,50.80 234.13,50.80 220.31,118.50 219.31,118.50" fill="#838383"/>
<polygon points="233.88,50.80 234.96,50.80 221.08,118.50 220.06,118.50" fill="#868686"/>
<polygon points="234.71,50.80 235.49,50.80 221.59,118.50 220.83,118.50" fill="#797979"/>
<polygon points="235.24,50.80 236.45,50.80 222.50,118.50 221.34,118.50" fill="#818181"/>
<polygon points="236.20,50.80 237.48,50.80 223.47,118.50 222.25,118.50" fill="#7b7b7b"/>
<polygon points="237.23,50.80 237.76,50.80 223.74,118.50 223.22,118.50" fill="#5b5b5b"/>
<polygon points="237.51,50.80 238.30,50.80 224.25,118.50 223.49,118.50" fill="#787878"/>
<polygon points="238.05,50.80 240.25,50.80 226.10,118.50 224.00,118.50" fill="#7d7d7d"/>
<polygon points="240.00,50.80 242.26,50.80 227.99,118.50 225.85,118.50" fill="#818181"/>
<polygon points="242.01,50.80 242.97,50.80 228.67,118.50 227.74,118.50" fill="#828282"/>
<polygon points="242.72,50.80 244.15,50.80 229.78,118.50 228.42,118.50" fill="#808080"/>
<polygon points="243.90,50.80 245.71,50.80 231.26,118.50 229.53,118.50" fill="#7a7a7a"/>
<polygon points="245.46,50.80 247.33,50.80 232.79,118.50 231.01,118.50" fill="#737373"/>
<polygon points="247.08,50.80 247.44,50.80 232.89,118.50 232.54,118.50" fill="#818181"/>
<polygon points="247.19,50.80 247.56,50.80 233.01,118.50 232.64,118.50" fill="#6f6f6f"/>
<polygon points="247.31,50.80 248.35,50.80 233.76,118.50 232.76,118.50" fill="#5e5e5e"/>
<polygon points="248.10,50.80 249.31,50.80 234.67,118.50 233.51,118.50" fill="#767676"/>
<polygon points="249.06,50.80 250.35,50.80 235.65,118.50 234.42,118.50" fill="#8a8a8a"/>
<polygon points="184.60,50.80 185.30,50.80 174.30,118.50 173.60,118.50" fill="#e1e1e1"/>
<polygon points="184.60,50.80 185.55,50.80 174.55,118.50 173.60,118.50" fill="#e4e4e4"/>
<polygon points="253.80,50.80 258.60,50.80 243.80,118.50 238.50,118.50" fill="#797979"/>
<polygon points="253.80,50.80 256.09,50.80 241.00,118.50 238.50,118.50" fill="#656565"/>
<polygon points="255.84,50.80 257.72,50.80 242.80,118.50 240.75,118.50" fill="#4d4d4d"/>
<polygon points="257.47,50.80 258.85,50.80 244.05,118.50 242.55,118.50" fill="#777777"/>
<polygon points="258.60,50.80 276.70,50.80 268.90,118.50 251.20,118.50" fill="#9c9c9c"/>
<polygon points="258.60,50.80 259.57,50.80 252.15,118.50 251.20,118.50" fill="#9b9b9b"/>
<polygon points="259.32,50.80 260.82,50.80 253.38,118.50 251.90,118.50" fill="#c0c0c0"/>
<polygon points="260.57,50.80 261.17,50.80 253.72,118.50 253.13,118.50" fill="#787878"/>
<polygon points="260.92,50.80 261.64,50.80 254.18,118.50 253.47,118.50" fill="#6d6d6d"/>
<polygon points="261.39,50.80 263.06,50.80 255.57,118.50 253.93,118.50" fill="#aaaaaa"/>
<polygon points="262.81,50.80 263.35,50.80 255.85,118.50 255.32,118.50" fill="#767676"/>
<polygon points="263.10,50.80 264.35,50.80 256.83,118.50 255.60,118.50" fill="#8c8c8c"/>
<polygon points="264.10,50.80 267.13,50.80 259.54,118.50 256.58,118.50" fill="#797979"/>
<polygon points="266.88,50.80 268.30,50.80 260.70,118.50 259.29,118.50" fill="#a8a8a8"/>
<polygon points="268.05,50.80 268.83,50.80 261.21,118.50 260.45,118.50" fill="#c4c4c4"/>
<polygon points="268.58,50.80 270.53,50.80 262.88,118.50 260.96,118.50" fill="#8a8a8a"/>
<polygon points="270.28,50.80 270.57,50.80 262.91,118.50 262.63,118.50" fill="#6b6b6b"/>
<polygon points="270.32,50.80 271.20,50.80 263.52,118.50 262.66,118.50" fill="#919191"/>
<polygon points="270.95,50.80 271.91,50.80 264.22,118.50 263.27,118.50" fill="#a1a1a1"/>
<polygon points="271.66,50.80 272.69,50.80 264.99,118.50 263.97,118.50" fill="#999999"/>
<polygon points="272.44,50.80 273.01,50.80 265.30,118.50 264.74,118.50" fill="#c7c7c7"/>
<polygon points="272.76,50.80 275.50,50.80 267.73,118.50 265.05,118.50" fill="#7a7a7a"/>
<polygon points="275.25,50.80 275.89,50.80 268.11,118.50 267.48,118.50" fill="#8d8d8d"/>
<polygon points="275.64,50.80 276.45,50.80 268.66,118.50 267.86,118.50" fill="#686868"/>
<polygon points="276.20,50.80 276.95,50.80 269.15,118.50 268.41,118.50" fill="#949494"/>
<polygon points="280.70,50.80 296.70,50.80 287.50,118.50 271.80,118.50" fill="#8d8d8d"/>
<polygon points="280.70,50.80 281.33,50.80 272.42,118.50 271.80,118.50" fill="#6f6f6f"/>
<polygon points="281.08,50.80 281.82,50.80 272.90,118.50 272.17,118.50" fill="#848484"/>
<polygon points="281.57,50.80 281.85,50.80 272.94,118.50 272.65,118.50" fill="#898989"/>
<polygon points="281.60,50.80 282.69,50.80 273.76,118.50 272.69,118.50" fill="#929292"/>
<polygon points="282.44,50.80 283.90,50.80 274.94,118.50 273.51,118.50" fill="#9b9b9b"/>
<polygon points="283.65,50.80 287.60,50.80 278.57,118.50 274.69,118.50" fill="#8f8f8f"/>
<polygon points="287.35,50.80 288.14,50.80 279.11,118.50 278.32,118.50" fill="#adadad"/>
<polygon points="287.89,50.80 288.71,50.80 279.67,118.50 278.86,118.50" fill="#646464"/>
<polygon points="288.46,50.80 290.47,50.80 281.39,118.50 279.42,118.50" fill="#919191"/>
<polygon points="290.22,50.80 290.49,50.80 281.41,118.50 281.14,118.50" fill="#666666"/>
<polygon points="290.24,50.80 290.71,50.80 281.63,118.50 281.16,118.50" fill="#8e8e8e"/>
<polygon points="290.46,50.80 290.93,50.80 281.84,118.50 281.38,118.50" fill="#5b5b5b"/>
<polygon points="290.68,50.80 292.31,50.80 283.19,118.50 281.59,118.50" fill="#838383"/>
<polygon points="292.06,50.80 295.29,50.80 286.12,118.50 282.94,118.50" fill="#666666"/>
<polygon points="295.04,50.80 295.52,50.80 286.34,118.50 285.87,118.50" fill="#8c8c8c"/>
<polygon points="295.27,50.80 295.70,50.80 286.52,118.50 286.09,118.50" fill="#818181"/>
<polygon points="295.45,50.80 296.95,50.80 287.75,118.50 286.27,118.50" fill="#858585"/>
<polygon points="313.20,50.80 419.50,50.80 411.40,118.50 303.60,118.50" fill="#7e7e7e"/>
<polygon points="313.20,50.80 313.93,50.80 304.33,118.50 303.60,118.50" fill="#767676"/>
<polygon points="313.68,50.80 314.12,50.80 304.53,118.50 304.08,118.50" fill="#737373"/>
<polygon points="313.87,50.80 314.38,50.80 304.79,118.50 304.28,118.50" fill="#7f7f7f"/>
<polygon points="314.13,50.80 316.79,50.80 307.24,118.50 304.54,118.50" fill="#848484"/>
<polygon points="316.54,50.80 317.39,50.80 307.84,118.50 306.99,118.50" fill="#888888"/>
<polygon points="317.14,50.80 317.43,50.80 307.89,118.50 307.59,118.50" fill="#7a7a7a"/>
<polygon points="317.18,50.80 317.51,50.80 307.97,118.50 307.64,118.50" fill="#9b9b9b"/>
<polygon points="317.26,50.80 318.08,50.80 308.55,118.50 307.72,118.50" fill="#8d8d8d"/>
<polygon points="317.83,50.80 318.14,50.80 308.61,118.50 308.30,118.50" fill="#838383"/>
<polygon points="317.89,50.80 318.81,50.80 309.28,118.50 308.36,118.50" fill="#8e8e8e"/>
<polygon points="318.56,50.80 320.04,50.80 310.53,118.50 309.03,118.50" fill="#7f7f7f"/>
<polygon points="319.79,50.80 320.13,50.80 310.63,118.50 310.28,118.50" fill="#767676"/>
<polygon points="319.88,50.80 320.34,50.80 310.84,118.50 310.38,118.50" fill="#848484"/>
<polygon points="320.09,50.80 320.39,50.80 310.89,118.50 310.59,118.50" fill="#505050"/>
<polygon points="320.14,50.80 321.12,50.80 311.63,118.50 310.64,118.50" fill="#828282"/>
<polygon points="320.87,50.80 321.43,50.80 311.95,118.50 311.38,118.50" fill="#b6b6b6"/>
<polygon points="321.18,50.80 321.73,50.80 312.25,118.50 311.70,118.50" fill="#565656"/>
<polygon points="321.48,50.80 324.14,50.80 314.69,118.50 312.00,118.50" fill="#898989"/>
<polygon points="323.89,50.80 324.64,50.80 315.19,118.50 314.44,118.50" fill="#858585"/>
<polygon points="324.39,50.80 324.85,50.80 315.41,118.50 314.94,118.50" fill="#828282"/>
<polygon points="324.60,50.80 327.56,50.80 318.16,118.50 315.16,118.50" fill="#848484"/>
<polygon points="327.31,50.80 327.58,50.80 318.18,118.50 317.91,118.50" fill="#878787"/>
<polygon points="327.33,50.80 329.53,50.80 320.16,118.50 317.93,118.50" fill="#858585"/>
<polygon points="329.28,50.80 330.45,50.80 321.09,118.50 319.91,118.50" fill="#7f7f7f"/>
<polygon points="330.20,50.80 330.53,50.80 321.17,118.50 320.84,118.50" fill="#828282"/>
<polygon points="330.28,50.80 331.86,50.80 322.52,118.50 320.92,118.50" fill="#7a7a7a"/>
<polygon points="331.61,50.80 332.35,50.80 323.01,118.50 322.27,118.50" fill="#7e7e7e"/>
<polygon points="332.10,50.80 333.19,50.80 323.87,118.50 322.76,118.50" fill="#898989"/>
<polygon points="332.94,50.80 333.46,50.80 324.14,118.50 323.62,118.50" fill="#5b5b5b"/>
<polygon points="333.21,50.80 334.09,50.80 324.78,118.50 323.89,118.50" fill="#737373"/>
<polygon points="333.84,50.80 334.17,50.80 324.86,118.50 324.53,118.50" fill="#747474"/>
<polygon points="333.92,50.80 335.60,50.80 326.31,118.50 324.61,118.50" fill="#7b7b7b"/>
<polygon points="335.35,50.80 338.02,50.80 328.76,118.50 326.06,118.50" fill="#575757"/>
<polygon points="337.77,50.80 338.21,50.80 328.96,118.50 328.51,118.50" fill="#838383"/>
<polygon points="337.96,50.80 338.42,50.80 329.18,118.50 328.71,118.50" fill="#838383"/>
<polygon points="338.17,50.80 338.48,50.80 329.24,118.50 328.93,118.50" fill="#8a8a8a"/>
<polygon points="338.23,50.80 338.55,50.80 329.31,118.50 328.99,118.50" fill="#585858"/>
<polygon points="338.30,50.80 339.59,50.80 330.36,118.50 329.06,118.50" fill="#878787"/>
<polygon points="339.34,50.80 340.20,50.80 330.98,118.50 330.11,118.50" fill="#878787"/>
<polygon points="339.95,50.80 340.46,50.80 331.24,118.50 330.73,118.50" fill="#7a7a7a"/>
<polygon points="340.21,50.80 341.12,50.80 331.91,118.50 330.99,118.50" fill="#878787"/>
<polygon points="340.87,50.80 341.90,50.80 332.70,118.50 331.66,118.50" fill="#787878"/>
<polygon points="341.65,50.80 343.15,50.80 333.97,118.50 332.45,118.50" fill="#b8b8b8"/>
<polygon points="342.90,50.80 343.36,50.80 334.18,118.50 333.72,118.50" fill="#898989"/>
<polygon points="343.11,50.80 344.69,50.80 335.53,118.50 333.93,118.50" fill="#7d7d7d"/>
<polygon points="344.44,50.80 345.06,50.80 335.91,118.50 335.28,118.50" fill="#858585"/>
<polygon points="344.81,50.80 345.69,50.80 336.55,118.50 335.66,118.50" fill="#6c6c6c"/>
<polygon points="345.44,50.80 349.06,50.80 339.96,118.50 336.30,118.50" fill="#868686"/>
<polygon points="348.81,50.80 349.59,50.80 340.50,118.50 339.71,118.50" fill="#818181"/>
<polygon points="349.34,50.80 350.62,50.80 341.55,118.50 340.25,118.50" fill="#5e5e5e"/>
<polygon points="350.37,50.80 352.03,50.80 342.98,118.50 341.30,118.50" fill="#4b4b4b"/>
<polygon points="351.78,50.80 352.97,50.80 343.93,118.50 342.73,118.50" fill="#4a4a4a"/>
<polygon points="352.72,50.80 353.19,50.80 344.15,118.50 343.68,118.50" fill="#8c8c8c"/>
<polygon points="352.94,50.80 355.09,50.80 346.07,118.50 343.90,118.50" fill="#606060"/>
<polygon points="354.84,50.80 356.79,50.80 347.81,118.50 345.82,118.50" fill="#8f8f8f"/>
<polygon points="356.54,50.80 356.93,50.80 347.94,118.50 347.56,118.50" fill="#7b7b7b"/>
<polygon points="356.68,50.80 358.21,50.80 349.24,118.50 347.69,118.50" fill="#6b6b6b"/>
<polygon points="357.96,50.80 358.79,50.80 349.83,118.50 348.99,118.50" fill="#646464"/>
<polygon points="358.54,50.80 360.16,50.80 351.22,118.50 349.58,118.50" fill="#4b4b4b"/>
<polygon points="359.91,50.80 361.10,50.80 352.18,118.50 350.97,118.50" fill="#818181"/>
<polygon points="360.85,50.80 362.43,50.80 353.52,118.50 351.93,118.50" fill="#7c7c7c"/>
<polygon points="362.18,50.80 362.45,50.80 353.54,118.50 353.27,118.50" fill="#898989"/>
<polygon points="362.20,50.80 362.76,50.80 353.86,118.50 353.29,118.50" fill="#8f8f8f"/>
<polygon points="362.51,50.80 362.78,50.80 353.87,118.50 353.61,118.50" fill="#858585"/>
<polygon points="362.53,50.80 362.96,50.80 354.06,118.50 353.62,118.50" fill="#878787"/>
<polygon points="362.71,50.80 364.65,50.80 355.78,118.50 353.81,118.50" fill="#7d7d7d"/>
<polygon points="364.40,50.80 366.23,50.80 357.38,118.50 355.53,118.50" fill="#5d5d5d"/>
<polygon points="365.98,50.80 367.86,50.80 359.03,118.50 357.13,118.50" fill="#727272"/>
<polygon points="367.61,50.80 367.95,50.80 359.12,118.50 358.78,118.50" fill="#868686"/>
<polygon points="367.70,50.80 369.40,50.80 360.59,118.50 358.87,118.50" fill="#717171"/>
<polygon points="369.15,50.80 370.70,50.80 361.91,118.50 360.34,118.50" fill="#8a8a8a"/>
<polygon points="370.45,50.80 371.34,50.80 362.56,118.50 361.66,118.50" fill="#909090"/>
<polygon points="371.09,50.80 376.76,50.80 368.05,118.50 362.31,118.50" fill="#838383"/>
<polygon points="376.51,50.80 376.77,50.80 368.07,118.50 367.80,118.50" fill="#6e6e6e"/>
<polygon points="376.52,50.80 377.28,50.80 368.58,118.50 367.82,118.50" fill="#7b7b7b"/>
<polygon points="377.03,50.80 377.55,50.80 368.86,118.50 368.33,118.50" fill="#6a6a6a"/>
<polygon points="377.30,50.80 377.83,50.80 369.14,118.50 368.61,118.50" fill="#797979"/>
<polygon points="377.58,50.80 379.46,50.80 370.80,118.50 368.89,118.50" fill="#585858"/>
<polygon points="379.21,50.80 379.85,50.80 371.18,118.50 370.55,118.50" fill="#848484"/>
<polygon points="379.60,50.80 381.21,50.80 372.57,118.50 370.93,118.50" fill="#787878"/>
<polygon points="380.96,50.80 382.50,50.80 373.87,118.50 372.32,118.50" fill="#525252"/>
<polygon points="382.25,50.80 382.51,50.80 373.88,118.50 373.62,118.50" fill="#7d7d7d"/>
<polygon points="382.26,50.80 384.11,50.80 375.51,118.50 373.63,118.50" fill="#8c8c8c"/>
<polygon points="383.86,50.80 386.75,50.80 378.19,118.50 375.26,118.50" fill="#a6a6a6"/>
<polygon points="386.50,50.80 387.02,50.80 378.46,118.50 377.94,118.50" fill="#767676"/>
<polygon points="386.77,50.80 388.89,50.80 380.36,118.50 378.21,118.50" fill="#7a7a7a"/>
<polygon points="388.64,50.80 389.52,50.80 380.99,118.50 380.11,118.50" fill="#8b8b8b"/>
<polygon points="389.27,50.80 390.15,50.80 381.64,118.50 380.74,118.50" fill="#898989"/>
<polygon points="389.90,50.80 391.29,50.80 382.78,118.50 381.39,118.50" fill="#616161"/>
<polygon points="391.04,50.80 392.80,50.80 384.32,118.50 382.53,118.50" fill="#575757"/>
<polygon points="392.55,50.80 394.19,50.80 385.73,118.50 384.07,118.50" fill="#7e7e7e"/>
<polygon points="393.94,50.80 395.71,50.80 387.27,118.50 385.48,118.50" fill="#575757"/>
<polygon points="395.46,50.80 395.83,50.80 387.39,118.50 387.02,118.50" fill="#828282"/>
<polygon points="395.58,50.80 395.98,50.80 387.54,118.50 387.14,118.50" fill="#787878"/>
<polygon points="395.73,50.80 396.34,50.80 387.91,118.50 387.29,118.50" fill="#7e7e7e"/>
<polygon points="396.09,50.80 396.77,50.80 388.35,118.50 387.66,118.50" fill="#808080"/>
<polygon points="396.52,50.80 397.41,50.80 388.99,118.50 388.10,118.50" fill="#818181"/>
<polygon points="397.16,50.80 398.84,50.80 390.45,118.50 388.74,118.50" fill="#808080"/>
<polygon points="398.59,50.80 399.09,50.80 390.70,118.50 390.20,118.50" fill="#b9b9b9"/>
<polygon points="398.84,50.80 400.06,50.80 391.68,118.50 390.45,118.50" fill="#878787"/>
<polygon points="399.81,50.80 400.06,50.80 391.69,118.50 391.43,118.50" fill="#6a6a6a"/>
<polygon points="399.81,50.80 400.49,50.80 392.12,118.50 391.44,118.50" fill="#747474"/>
<polygon points="400.24,50.80 401.26,50.80 392.89,118.50 391.87,118.50" fill="#626262"/>
<polygon points="401.01,50.80 401.46,50.80 393.10,118.50 392.64,118.50" fill="#898989"/>
<polygon points="401.21,50.80 405.00,50.80 396.69,118.50 392.85,118.50" fill="#818181"/>
<polygon points="404.75,50.80 406.66,50.80 398.38,118.50 396.44,118.50" fill="#b6b6b6"/>
<polygon points="406.41,50.80 407.29,50.80 399.02,118.50 398.13,118.50" fill="#848484"/>
<polygon points="407.04,50.80 408.19,50.80 399.93,118.50 398.77,118.50" fill="#818181"/>
<polygon points="407.94,50.80 409.92,50.80 401.69,118.50 399.68,118.50" fill="#878787"/>
<polygon points="409.67,50.80 410.56,50.80 402.33,118.50 401.44,118.50" fill="#777777"/>
<polygon points="410.31,50.80 410.60,50.80 402.37,118.50 402.08,118.50" fill="#757575"/>
<polygon points="410.35,50.80 411.70,50.80 403.48,118.50 402.12,118.50" fill="#8a8a8a"/>
<polygon points="411.45,50.80 412.42,50.80 404.22,118.50 403.23,118.50" fill="#838383"/>
<polygon points="412.17,50.80 414.06,50.80 405.88,118.50 403.97,118.50" fill="#717171"/>
<polygon points="413.81,50.80 414.83,50.80 406.67,118.50 405.63,118.50" fill="#7f7f7f"/>
<polygon points="414.58,50.80 416.79,50.80 408.64,118.50 406.42,118.50" fill="#818181"/>
<polygon points="416.54,50.80 418.52,50.80 410.40,118.50 408.39,118.50" fill="#5f5f5f"/>
<polygon points="418.27,50.80 419.74,50.80 411.64,118.50 410.15,118.50" fill="#4b4b4b"/>
<polygon points="419.49,50.80 419.75,50.80 411.65,118.50 411.39,118.50" fill="#8c8c8c"/>
<polygon points="425.00,50.80 447.60,50.80 446.00,118.50 412.20,118.50" fill="#959595"/>
<polygon points="425.00,50.80 425.39,50.80 412.67,118.50 412.20,118.50" fill="#8a8a8a"/>
<polygon points="425.14,50.80 425.85,50.80 413.35,118.50 412.42,118.50" fill="#787878"/>
<polygon points="425.60,50.80 426.44,50.80 414.23,118.50 413.10,118.50" fill="#999999"/>
<polygon points="426.19,50.80 427.18,50.80 415.34,118.50 413.98,118.50" fill="#959595"/>
<polygon points="426.93,50.80 428.85,50.80 417.83,118.50 415.09,118.50" fill="#bbbbbb"/>
<polygon points="428.60,50.80 429.09,50.80 418.19,118.50 417.58,118.50" fill="#969696"/>
<polygon points="428.84,50.80 429.59,50.80 418.94,118.50 417.94,118.50" fill="#b7b7b7"/>
<polygon points="429.34,50.80 429.83,50.80 419.30,118.50 418.69,118.50" fill="#959595"/>
<polygon points="429.58,50.80 430.53,50.80 420.35,118.50 419.05,118.50" fill="#9c9c9c"/>
<polygon points="430.28,50.80 431.20,50.80 421.35,118.50 420.10,118.50" fill="#acacac"/>
<polygon points="430.95,50.80 431.93,50.80 422.44,118.50 421.10,118.50" fill="#a1a1a1"/>
<polygon points="431.68,50.80 433.83,50.80 425.28,118.50 422.19,118.50" fill="#898989"/>
<polygon points="433.58,50.80 434.03,50.80 425.59,118.50 425.03,118.50" fill="#bebebe"/>
<polygon points="433.78,50.80 435.92,50.80 428.41,118.50 425.34,118.50" fill="#9b9b9b"/>
<polygon points="435.67,50.80 436.72,50.80 429.60,118.50 428.16,118.50" fill="#a3a3a3"/>
<polygon points="436.47,50.80 437.24,50.80 430.38,118.50 429.35,118.50" fill="#9d9d9d"/>
<polygon points="436.99,50.80 437.37,50.80 430.58,118.50 430.13,118.50" fill="#a0a0a0"/>
<polygon points="437.12,50.80 438.84,50.80 432.77,118.50 430.33,118.50" fill="#a2a2a2"/>
<polygon points="438.59,50.80 439.62,50.80 433.94,118.50 432.52,118.50" fill="#909090"/>
<polygon points="439.37,50.80 440.60,50.80 435.41,118.50 433.69,118.50" fill="#9b9b9b"/>
<polygon points="440.35,50.80 440.75,50.80 435.63,118.50 435.16,118.50" fill="#a5a5a5"/>
<polygon points="440.50,50.80 443.09,50.80 439.13,118.50 435.38,118.50" fill="#9a9a9a"/>
<polygon points="442.84,50.80 444.27,50.80 440.89,118.50 438.88,118.50" fill="#8b8b8b"/>
<polygon points="444.02,50.80 444.27,50.80 440.90,118.50 440.64,118.50" fill="#8e8e8e"/>
<polygon points="444.02,50.80 444.50,50.80 441.25,118.50 440.65,118.50" fill="#959595"/>
<polygon points="444.25,50.80 445.25,50.80 442.35,118.50 441.00,118.50" fill="#6a6a6a"/>
<polygon points="445.00,50.80 445.46,50.80 442.67,118.50 442.10,118.50" fill="#777777"/>
<polygon points="445.21,50.80 445.70,50.80 443.03,118.50 442.42,118.50" fill="#898989"/>
<polygon points="445.45,50.80 445.93,50.80 443.38,118.50 442.78,118.50" fill="#929292"/>
<polygon points="445.68,50.80 445.98,50.80 443.45,118.50 443.13,118.50" fill="#9f9f9f"/>
<polygon points="445.73,50.80 446.08,50.80 443.60,118.50 443.20,118.50" fill="#959595"/>
<polygon points="445.83,50.80 446.24,50.80 443.84,118.50 443.35,118.50" fill="#636363"/>
<polygon points="445.99,50.80 446.56,50.80 444.32,118.50 443.59,118.50" fill="#969696"/>
<polygon points="446.31,50.80 446.85,50.80 444.75,118.50 444.07,118.50" fill="#8e8e8e"/>
<polygon points="446.60,50.80 447.21,50.80 445.30,118.50 444.50,118.50" fill="#989898"/>
<polygon points="446.96,50.80 447.44,50.80 445.63,118.50 445.05,118.50" fill="#8e8e8e"/>
<polygon points="447.19,50.80 447.85,50.80 446.25,118.50 445.38,118.50" fill="#989898"/>
<polygon points="456.40,50.80 468.00,50.80 458.00,118.50 447.80,118.50" fill="#7e7e7e"/>
<polygon points="456.40,50.80 457.59,50.80 448.88,118.50 447.80,118.50" fill="#4e4e4e"/>
<polygon points="457.34,50.80 457.93,50.80 449.17,118.50 448.63,118.50" fill="#848484"/>
<polygon points="457.68,50.80 460.78,50.80 451.68,118.50 448.92,118.50" fill="#7f7f7f"/>
<polygon points="460.53,50.80 461.23,50.80 452.07,118.50 451.43,118.50" fill="#747474"/>
<polygon points="460.98,50.80 461.30,50.80 452.14,118.50 451.82,118.50" fill="#7d7d7d"/>
<polygon points="461.05,50.80 463.93,50.80 454.45,118.50 451.89,118.50" fill="#727272"/>
<polygon points="463.68,50.80 464.03,50.80 454.54,118.50 454.20,118.50" fill="#808080"/>
<polygon points="463.78,50.80 464.74,50.80 455.16,118.50 454.29,118.50" fill="#787878"/>
<polygon points="464.49,50.80 465.78,50.80 456.08,118.50 454.91,118.50" fill="#545454"/>
<polygon points="465.53,50.80 465.79,50.80 456.09,118.50 455.83,118.50" fill="#545454"/>
<polygon points="465.54,50.80 466.98,50.80 457.13,118.50 455.84,118.50" fill="#6f6f6f"/>
<polygon points="466.73,50.80 468.25,50.80 458.25,118.50 456.88,118.50" fill="#7d7d7d"/>
<polygon points="468.00,50.80 481.40,50.80 465.90,118.50 458.00,118.50" fill="#a9a9a9"/>
<polygon points="468.00,50.80 471.42,50.80 460.12,118.50 458.00,118.50" fill="#b0b0b0"/>
<polygon points="471.17,50.80 471.83,50.80 460.36,118.50 459.87,118.50" fill="#a7a7a7"/>
<polygon points="471.58,50.80 472.92,50.80 461.00,118.50 460.11,118.50" fill="#787878"/>
<polygon points="472.67,50.80 475.05,50.80 462.26,118.50 460.75,118.50" fill="#b0b0b0"/>
<polygon points="474.80,50.80 476.33,50.80 463.01,118.50 462.01,118.50" fill="#aeaeae"/>
<polygon points="476.08,50.80 476.52,50.80 463.13,118.50 462.76,118.50" fill="#a7a7a7"/>
<polygon points="476.27,50.80 476.86,50.80 463.33,118.50 462.88,118.50" fill="#9e9e9e"/>
<polygon points="476.61,50.80 477.58,50.80 463.75,118.50 463.08,118.50" fill="#aeaeae"/>
<polygon points="477.33,50.80 477.94,50.80 463.96,118.50 463.50,118.50" fill="#818181"/>
<polygon points="477.69,50.80 477.94,50.80 463.96,118.50 463.71,118.50" fill="#afafaf"/>
<polygon points="477.69,50.80 478.36,50.80 464.21,118.50 463.71,118.50" fill="#a0a0a0"/>
<polygon points="478.11,50.80 479.33,50.80 464.78,118.50 463.96,118.50" fill="#a8a8a8"/>
<polygon points="479.08,50.80 481.31,50.80 465.95,118.50 464.53,118.50" fill="#ababab"/>
<polygon points="481.06,50.80 481.65,50.80 466.15,118.50 465.70,118.50" fill="#b0b0b0"/>
<polygon points="481.40,50.80 502.00,50.80 502.30,118.50 481.40,118.50" fill="#989898"/>
<polygon points="481.40,50.80 484.21,50.80 484.25,118.50 481.40,118.50" fill="#c6c6c6"/>
<polygon points="483.96,50.80 484.87,50.80 484.92,118.50 484.00,118.50" fill="#868686"/>
<polygon points="484.62,50.80 485.39,50.80 485.44,118.50 484.67,118.50" fill="#959595"/>
<polygon points="485.14,50.80 486.36,50.80 486.43,118.50 485.19,118.50" fill="#979797"/>
<polygon points="486.11,50.80 486.64,50.80 486.72,118.50 486.18,118.50" fill="#999999"/>
<polygon points="486.39,50.80 487.00,50.80 487.08,118.50 486.47,118.50" fill="#666666"/>
<polygon points="486.75,50.80 489.89,50.80 490.01,118.50 486.83,118.50" fill="#9d9d9d"/>
<polygon points="489.64,50.80 490.56,50.80 490.69,118.50 489.76,118.50" fill="#6a6a6a"/>
<polygon points="490.31,50.80 491.59,50.80 491.74,118.50 490.44,118.50" fill="#929292"/>
<polygon points="491.34,50.80 493.68,50.80 493.85,118.50 491.49,118.50" fill="#c4c4c4"/>
<polygon points="493.43,50.80 493.75,50.80 493.93,118.50 493.60,118.50" fill="#a5a5a5"/>
<polygon points="493.50,50.80 494.87,50.80 495.06,118.50 493.68,118.50" fill="#676767"/>
<polygon points="494.62,50.80 494.98,50.80 495.18,118.50 494.81,118.50" fill="#6c6c6c"/>
<polygon points="494.73,50.80 495.09,50.80 495.29,118.50 494.93,118.50" fill="#989898"/>
<polygon points="494.84,50.80 495.41,50.80 495.61,118.50 495.04,118.50" fill="#919191"/>
<polygon points="495.16,50.80 496.08,50.80 496.29,118.50 495.36,118.50" fill="#a1a1a1"/>
<polygon points="495.83,50.80 496.09,50.80 496.30,118.50 496.04,118.50" fill="#c6c6c6"/>
<polygon points="495.84,50.80 496.33,50.80 496.54,118.50 496.05,118.50" fill="#a6a6a6"/>
<polygon points="496.08,50.80 499.08,50.80 499.33,118.50 496.29,118.50" fill="#8f8f8f"/>
<polygon points="498.83,50.80 499.15,50.80 499.40,118.50 499.08,118.50" fill="#9f9f9f"/>
<polygon points="498.90,50.80 499.73,50.80 499.99,118.50 499.15,118.50" fill="#9e9e9e"/>
<polygon points="499.48,50.80 500.08,50.80 500.35,118.50 499.74,118.50" fill="#bdbdbd"/>
<polygon points="499.83,50.80 502.25,50.80 502.55,118.50 500.10,118.50" fill="#919191"/>
<polygon points="504.60,50.80 512.80,50.80 503.80,118.50 502.30,118.50" fill="#767676"/>
<polygon points="504.60,50.80 505.41,50.80 502.65,118.50 502.30,118.50" fill="#7e7e7e"/>
<polygon points="505.16,50.80 506.20,50.80 502.80,118.50 502.40,118.50" fill="#818181"/>
<polygon points="505.95,50.80 506.43,50.80 502.84,118.50 502.55,118.50" fill="#595959"/>
<polygon points="506.18,50.80 510.12,50.80 503.51,118.50 502.59,118.50" fill="#878787"/>
<polygon points="509.87,50.80 510.76,50.80 503.63,118.50 503.26,118.50" fill="#787878"/>
<polygon points="510.51,50.80 511.40,50.80 503.75,118.50 503.38,118.50" fill="#6a6a6a"/>
<polygon points="511.15,50.80 511.53,50.80 503.77,118.50 503.50,118.50" fill="#717171"/>
<polygon points="511.28,50.80 512.47,50.80 503.94,118.50 503.52,118.50" fill="#676767"/>
<polygon points="512.22,50.80 513.05,50.80 504.05,118.50 503.69,118.50" fill="#646464"/>
<polygon points="517.00,50.80 536.50,50.80 535.40,118.50 516.00,118.50" fill="#929292"/>
<polygon points="517.00,50.80 518.65,50.80 517.65,118.50 516.00,118.50" fill="#949494"/>
<polygon points="518.40,50.80 518.91,50.80 517.90,118.50 517.40,118.50" fill="#858585"/>
<polygon points="518.66,50.80 518.92,50.80 517.91,118.50 517.65,118.50" fill="#686868"/>
<polygon points="518.67,50.80 520.23,50.80 519.21,118.50 517.66,118.50" fill="#8e8e8e"/>
<polygon points="519.98,50.80 521.34,50.80 520.32,118.50 518.96,118.50" fill="#979797"/>
<polygon points="521.09,50.80 523.16,50.80 522.13,118.50 520.07,118.50" fill="#9e9e9e"/>
<polygon points="522.91,50.80 523.50,50.80 522.46,118.50 521.88,118.50" fill="#a7a7a7"/>
<polygon points="523.25,50.80 523.58,50.80 522.55,118.50 522.21,118.50" fill="#858585"/>
<polygon points="523.33,50.80 523.98,50.80 522.95,118.50 522.30,118.50" fill="#7b7b7b"/>
<polygon points="523.73,50.80 524.23,50.80 523.19,118.50 522.70,118.50" fill="#979797"/>
<polygon points="523.98,50.80 524.76,50.80 523.72,118.50 522.94,118.50" fill="#a3a3a3"/>
<polygon points="524.51,50.80 526.71,50.80 525.66,118.50 523.47,118.50" fill="#7a7a7a"/>
<polygon points="526.46,50.80 527.60,50.80 526.54,118.50 525.41,118.50" fill="#9b9b9b"/>
<polygon points="527.35,50.80 528.26,50.80 527.20,118.50 526.29,118.50" fill="#929292"/>
<polygon points="528.01,50.80 528.61,50.80 527.55,118.50 526.95,118.50" fill="#b3b3b3"/>
<polygon points="528.36,50.80 529.41,50.80 528.34,118.50 527.30,118.50" fill="#a1a1a1"/>
<polygon points="529.16,50.80 530.01,50.80 528.95,118.50 528.09,118.50" fill="#636363"/>
<polygon points="529.76,50.80 530.07,50.80 529.00,118.50 528.70,118.50" fill="#929292"/>
<polygon points="529.82,50.80 534.74,50.80 533.65,118.50 528.75,118.50" fill="#909090"/>
<polygon points="534.49,50.80 535.63,50.80 534.54,118.50 533.40,118.50" fill="#818181"/>
<polygon points="535.38,50.80 536.75,50.80 535.65,118.50 534.29,118.50" fill="#8b8b8b"/>
<polygon points="548.60,50.80 611.00,50.80 597.50,118.50 537.00,118.50" fill="#7f7f7f"/>
<polygon points="548.60,50.80 549.24,50.80 537.63,118.50 537.00,118.50" fill="#838383"/>
<polygon points="548.99,50.80 550.63,50.80 538.98,118.50 537.38,118.50" fill="#606060"/>
<polygon points="550.38,50.80 550.97,50.80 539.30,118.50 538.73,118.50" fill="#898989"/>
<polygon points="550.72,50.80 551.16,50.80 539.49,118.50 539.05,118.50" fill="#5a5a5a"/>
<polygon points="550.91,50.80 551.35,50.80 539.67,118.50 539.24,118.50" fill="#d3d3d3"/>
<polygon points="551.10,50.80 551.95,50.80 540.26,118.50 539.42,118.50" fill="#828282"/>
<polygon points="551.70,50.80 553.55,50.80 541.81,118.50 540.01,118.50" fill="#838383"/>
<polygon points="553.30,50.80 555.17,50.80 543.38,118.50 541.56,118.50" fill="#b6b6b6"/>
<polygon points="554.92,50.80 560.16,50.80 548.22,118.50 543.13,118.50" fill="#818181"/>
<polygon points="559.91,50.80 560.70,50.80 548.74,118.50 547.97,118.50" fill="#707070"/>
<polygon points="560.45,50.80 562.00,50.80 550.00,118.50 548.49,118.50" fill="#929292"/>
<polygon points="561.75,50.80 562.11,50.80 550.11,118.50 549.75,118.50" fill="#878787"/>
<polygon points="561.86,50.80 565.80,50.80 553.69,118.50 549.86,118.50" fill="#7a7a7a"/>
<polygon points="565.55,50.80 567.13,50.80 554.97,118.50 553.44,118.50" fill="#787878"/>
<polygon points="566.88,50.80 567.52,50.80 555.35,118.50 554.72,118.50" fill="#8c8c8c"/>
<polygon points="567.27,50.80 567.60,50.80 555.42,118.50 555.10,118.50" fill="#868686"/>
<polygon points="567.35,50.80 568.64,50.80 556.43,118.50 555.17,118.50" fill="#7d7d7d"/>
<polygon points="568.39,50.80 569.47,50.80 557.24,118.50 556.18,118.50" fill="#7f7f7f"/>
<polygon points="569.22,50.80 569.50,50.80 557.27,118.50 556.99,118.50" fill="#545454"/>
<polygon points="569.25,50.80 569.98,50.80 557.74,118.50 557.02,118.50" fill="#dddddd"/>
<polygon points="569.73,50.80 571.70,50.80 559.40,118.50 557.49,118.50" fill="#717171"/>
<polygon points="571.45,50.80 574.04,50.80 561.68,118.50 559.15,118.50" fill="#787878"/>
<polygon points="573.79,50.80 574.98,50.80 562.59,118.50 561.43,118.50" fill="#6f6f6f"/>
<polygon points="574.73,50.80 575.21,50.80 562.80,118.50 562.34,118.50" fill="#4b4b4b"/>
<polygon points="574.96,50.80 576.01,50.80 563.58,118.50 562.55,118.50" fill="#909090"/>
<polygon points="575.76,50.80 577.42,50.80 564.95,118.50 563.33,118.50" fill="#888888"/>
<polygon points="577.17,50.80 578.46,50.80 565.96,118.50 564.70,118.50" fill="#888888"/>
<polygon points="578.21,50.80 579.09,50.80 566.57,118.50 565.71,118.50" fill="#7a7a7a"/>
<polygon points="578.84,50.80 580.28,50.80 567.73,118.50 566.32,118.50" fill="#818181"/>
<polygon points="580.03,50.80 580.45,50.80 567.89,118.50 567.48,118.50" fill="#7f7f7f"/>
<polygon points="580.20,50.80 580.71,50.80 568.14,118.50 567.64,118.50" fill="#898989"/>
<polygon points="580.46,50.80 581.64,50.80 569.05,118.50 567.89,118.50" fill="#545454"/>
<polygon points="581.39,50.80 582.88,50.80 570.25,118.50 568.80,118.50" fill="#757575"/>
<polygon points="582.63,50.80 583.42,50.80 570.77,118.50 570.00,118.50" fill="#777777"/>
<polygon points="583.17,50.80 585.44,50.80 572.73,118.50 570.52,118.50" fill="#767676"/>
<polygon points="585.19,50.80 586.06,50.80 573.33,118.50 572.48,118.50" fill="#4f4f4f"/>
<polygon points="585.81,50.80 586.83,50.80 574.08,118.50 573.08,118.50" fill="#8b8b8b"/>
<polygon points="586.58,50.80 586.89,50.80 574.14,118.50 573.83,118.50" fill="#949494"/>
<polygon points="586.64,50.80 587.02,50.80 574.26,118.50 573.89,118.50" fill="#747474"/>
<polygon points="586.77,50.80 587.33,50.80 574.56,118.50 574.01,118.50" fill="#828282"/>
<polygon points="587.08,50.80 587.87,50.80 575.08,118.50 574.31,118.50" fill="#7b7b7b"/>
<polygon points="587.62,50.80 587.96,50.80 575.17,118.50 574.83,118.50" fill="#929292"/>
<polygon points="587.71,50.80 588.46,50.80 575.66,118.50 574.92,118.50" fill="#686868"/>
<polygon points="588.21,50.80 588.54,50.80 575.74,118.50 575.41,118.50" fill="#b8b8b8"/>
<polygon points="588.29,50.80 588.60,50.80 575.79,118.50 575.49,118.50" fill="#757575"/>
<polygon points="588.35,50.80 589.69,50.80 576.85,118.50 575.54,118.50" fill="#777777"/>
<polygon points="589.44,50.80 589.91,50.80 577.06,118.50 576.60,118.50" fill="#6f6f6f"/>
<polygon points="589.66,50.80 590.47,50.80 577.60,118.50 576.81,118.50" fill="#8d8d8d"/>
<polygon points="590.22,50.80 591.34,50.80 578.45,118.50 577.35,118.50" fill="#bfbfbf"/>
<polygon points="591.09,50.80 591.44,50.80 578.55,118.50 578.20,118.50" fill="#747474"/>
<polygon points="591.19,50.80 592.31,50.80 579.38,118.50 578.30,118.50" fill="#909090"/>
<polygon points="592.06,50.80 593.66,50.80 580.70,118.50 579.13,118.50" fill="#999999"/>
<polygon points="593.41,50.80 593.95,50.80 580.97,118.50 580.45,118.50" fill="#7d7d7d"/>
<polygon points="593.70,50.80 596.44,50.80 583.39,118.50 580.72,118.50" fill="#868686"/>
<polygon points="596.19,50.80 596.93,50.80 583.87,118.50 583.14,118.50" fill="#959595"/>
<polygon points="596.68,50.80 597.79,50.80 584.70,118.50 583.62,118.50" fill="#9d9d9d"/>
<polygon points="597.54,50.80 598.09,50.80 584.99,118.50 584.45,118.50" fill="#818181"/>
<polygon points="597.84,50.80 598.27,50.80 585.16,118.50 584.74,118.50" fill="#6e6e6e"/>
<polygon points="598.02,50.80 600.44,50.80 587.27,118.50 584.91,118.50" fill="#717171"/>
<polygon points="600.19,50.80 600.50,50.80 587.33,118.50 587.02,118.50" fill="#808080"/>
<polygon points="600.25,50.80 602.62,50.80 589.38,118.50 587.08,118.50" fill="#c8c8c8"/>
<polygon points="602.37,50.80 604.11,50.80 590.83,118.50 589.13,118.50" fill="#7d7d7d"/>
<polygon points="603.86,50.80 604.86,50.80 591.55,118.50 590.58,118.50" fill="#818181"/>
<polygon points="604.61,50.80 605.62,50.80 592.29,118.50 591.30,118.50" fill="#898989"/>
<polygon points="605.37,50.80 606.35,50.80 593.00,118.50 592.04,118.50" fill="#797979"/>
<polygon points="606.10,50.80 606.98,50.80 593.61,118.50 592.75,118.50" fill="#808080"/>
<polygon points="606.73,50.80 608.79,50.80 595.37,118.50 593.36,118.50" fill="#808080"/>
<polygon points="608.54,50.80 609.69,50.80 596.24,118.50 595.12,118.50" fill="#919191"/>
<polygon points="609.44,50.80 610.11,50.80 596.64,118.50 595.99,118.50" fill="#6f6f6f"/>
<polygon points="609.86,50.80 611.25,50.80 597.75,118.50 596.39,118.50" fill="#5d5d5d"/>
<polygon points="612.30,50.80 614.40,50.80 604.00,118.50 601.40,118.50" fill="#747474"/>
<polygon points="612.30,50.80 612.74,50.80 601.89,118.50 601.40,118.50" fill="#757575"/>
<polygon points="612.49,50.80 614.65,50.80 604.25,118.50 601.64,118.50" fill="#707070"/>
<polygon points="623.30,50.80 628.80,50.80 617.20,118.50 609.30,118.50" fill="#a5a5a5"/>
<polygon points="623.30,50.80 624.90,50.80 611.50,118.50 609.30,118.50" fill="#dfdfdf"/>
<polygon points="624.65,50.80 625.59,50.80 612.49,118.50 611.25,118.50" fill="#898989"/>
<polygon points="625.34,50.80 626.10,50.80 613.21,118.50 612.24,118.50" fill="#afafaf"/>
<polygon points="625.85,50.80 626.26,50.80 613.45,118.50 612.96,118.50" fill="#ababab"/>
<polygon points="626.01,50.80 627.84,50.80 615.71,118.50 613.20,118.50" fill="#9a9a9a"/>
<polygon points="627.59,50.80 628.26,50.80 616.32,118.50 615.46,118.50" fill="#dadada"/>
<polygon points="628.01,50.80 628.32,50.80 616.39,118.50 616.07,118.50" fill="#c2c2c2"/>
<polygon points="628.07,50.80 628.62,50.80 616.84,118.50 616.14,118.50" fill="#9a9a9a"/>
<polygon points="628.37,50.80 629.05,50.80 617.45,118.50 616.59,118.50" fill="#dcdcdc"/>
<polygon points="628.60,50.80 667.40,50.80 655.70,118.50 617.00,118.50" fill="#858585"/>
<polygon points="628.60,50.80 629.07,50.80 617.47,118.50 617.00,118.50" fill="#888888"/>
<polygon points="628.82,50.80 629.92,50.80 618.31,118.50 617.22,118.50" fill="#7b7b7b"/>
<polygon points="629.67,50.80 629.93,50.80 618.33,118.50 618.06,118.50" fill="#787878"/>
<polygon points="629.68,50.80 630.20,50.80 618.60,118.50 618.08,118.50" fill="#7b7b7b"/>
<polygon points="629.95,50.80 631.15,50.80 619.54,118.50 618.35,118.50" fill="#8e8e8e"/>
<polygon points="630.90,50.80 632.33,50.80 620.72,118.50 619.29,118.50" fill="#9e9e9e"/>
<polygon points="632.08,50.80 632.34,50.80 620.73,118.50 620.47,118.50" fill="#757575"/>
<polygon points="632.09,50.80 632.77,50.80 621.16,118.50 620.48,118.50" fill="#878787"/>
<polygon points="632.52,50.80 635.53,50.80 623.91,118.50 620.91,118.50" fill="#d6d6d6"/>
<polygon points="635.28,50.80 635.94,50.80 624.32,118.50 623.66,118.50" fill="#5b5b5b"/>
<polygon points="635.69,50.80 636.57,50.80 624.95,118.50 624.07,118.50" fill="#6f6f6f"/>
<polygon points="636.32,50.80 637.90,50.80 626.28,118.50 624.70,118.50" fill="#b3b3b3"/>
<polygon points="637.65,50.80 637.97,50.80 626.35,118.50 626.03,118.50" fill="#7e7e7e"/>
<polygon points="637.72,50.80 638.86,50.80 627.23,118.50 626.10,118.50" fill="#777777"/>
<polygon points="638.61,50.80 641.18,50.80 629.54,118.50 626.98,118.50" fill="#9b9b9b"/>
<polygon points="640.93,50.80 641.22,50.80 629.58,118.50 629.29,118.50" fill="#dcdcdc"/>
<polygon points="640.97,50.80 643.19,50.80 631.55,118.50 629.33,118.50" fill="#8c8c8c"/>
<polygon points="642.94,50.80 643.24,50.80 631.60,118.50 631.30,118.50" fill="#5c5c5c"/>
<polygon points="642.99,50.80 643.52,50.80 631.89,118.50 631.35,118.50" fill="#7b7b7b"/>
<polygon points="643.27,50.80 647.61,50.80 635.96,118.50 631.64,118.50" fill="#8b8b8b"/>
<polygon points="647.36,50.80 647.74,50.80 636.09,118.50 635.71,118.50" fill="#8e8e8e"/>
<polygon points="647.49,50.80 648.50,50.80 636.85,118.50 635.84,118.50" fill="#8d8d8d"/>
<polygon points="648.25,50.80 648.77,50.80 637.12,118.50 636.60,118.50" fill="#939393"/>
<polygon points="648.52,50.80 650.30,50.80 638.64,118.50 636.87,118.50" fill="#e1e1e1"/>
<polygon points="650.05,50.80 651.73,50.80 640.07,118.50 638.39,118.50" fill="#9e9e9e"/>
<polygon points="651.48,50.80 653.68,50.80 642.01,118.50 639.82,118.50" fill="#888888"/>
<polygon points="653.43,50.80 656.23,50.80 644.56,118.50 641.76,118.50" fill="#636363"/>
<polygon points="655.98,50.80 656.26,50.80 644.59,118.50 644.31,118.50" fill="#939393"/>
<polygon points="656.01,50.80 656.81,50.80 645.14,118.50 644.34,118.50" fill="#626262"/>
<polygon points="656.56,50.80 657.55,50.80 645.87,118.50 644.89,118.50" fill="#8e8e8e"/>
<polygon points="657.30,50.80 657.88,50.80 646.21,118.50 645.62,118.50" fill="#dddddd"/>
<polygon points="657.63,50.80 658.40,50.80 646.73,118.50 645.96,118.50" fill="#8c8c8c"/>
<polygon points="658.15,50.80 661.66,50.80 649.97,118.50 646.48,118.50" fill="#838383"/>
<polygon points="661.41,50.80 661.82,50.80 650.13,118.50 649.72,118.50" fill="#747474"/>
<polygon points="661.57,50.80 662.33,50.80 650.65,118.50 649.88,118.50" fill="#848484"/>
<polygon points="662.08,50.80 663.57,50.80 651.88,118.50 650.40,118.50" fill="#8f8f8f"/>
<polygon points="663.32,50.80 664.51,50.80 652.82,118.50 651.63,118.50" fill="#c9c9c9"/>
<polygon points="664.26,50.80 664.58,50.80 652.89,118.50 652.57,118.50" fill="#646464"/>
<polygon points="664.33,50.80 664.63,50.80 652.94,118.50 652.64,118.50" fill="#969696"/>
<polygon points="664.38,50.80 665.37,50.80 653.67,118.50 652.69,118.50" fill="#868686"/>
<polygon points="665.12,50.80 665.39,50.80 653.69,118.50 653.42,118.50" fill="#8d8d8d"/>
<polygon points="665.14,50.80 667.65,50.80 655.95,118.50 653.44,118.50" fill="#969696"/>
</g>
<g id="jersey">
<line x1="33.5" y1="41.2" x2="669.5" y2="41.2" stroke="#000" stroke-width="2"/>
<polygon points="33.50,31.20 41.00,41.20 33.50,51.20" fill="#f4ec86"/>
<polygon points="42.00,36.60 50.40,36.60 50.40,31.20 59.60,41.20 50.40,51.20 50.40,45.80 42.00,45.80" fill="#f4ec86"/>
<polygon points="81.00,36.60 70.00,36.60 70.00,31.20 61.00,41.20 70.00,51.20 70.00,45.80 81.00,45.80" fill="#a9d0e8"/>
<polygon points="83.00,36.60 95.20,36.60 95.20,31.20 103.90,41.20 95.20,51.20 95.20,45.80 83.00,45.80" fill="#f4ec86"/>
<polygon points="113.80,31.20 104.90,41.20 113.80,51.20" fill="#ffffff" stroke="#aeaeb8" stroke-width="0.5"/>
<polygon points="116.80,36.60 122.00,36.60 122.00,31.20 131.00,41.20 122.00,51.20 122.00,45.80 116.80,45.80" fill="#3aa844"/>
<polygon points="132.00,31.20 138.40,41.20 132.00,51.20" fill="#3aa844"/>
<polygon points="139.50,31.20 145.00,41.20 139.50,51.20" fill="#ffffff" stroke="#aeaeb8" stroke-width="0.5"/>
<polygon points="143.00,31.20 148.00,41.20 143.00,51.20" fill="#ffffff" stroke="#aeaeb8" stroke-width="0.5"/>
<polygon points="145.50,31.20 151.00,41.20 145.50,51.20" fill="#ffffff" stroke="#aeaeb8" stroke-width="0.5"/>
<polygon points="152.30,31.20 161.20,41.20 152.30,51.20" fill="#3aa844"/>
<polygon points="162.30,36.60 168.20,36.60 168.20,31.20 176.90,41.20 168.20,51.20 168.20,45.80 162.30,45.80" fill="#3aa844"/>
<polygon points="178.70,31.20 183.50,41.20 178.70,51.20" fill="#ffffff" stroke="#aeaeb8" stroke-width="0.5"/>
<polygon points="183.70,31.20 189.20,41.20 183.70,51.20" fill="#3aa844"/>
<polygon points="189.70,31.20 191.60,41.20 189.70,51.20" fill="#ffffff" stroke="#aeaeb8" stroke-width="0.5"/>
<polygon points="192.70,31.20 199.40,41.20 192.70,51.20" fill="#ffffff" stroke="#aeaeb8" stroke-width="0.5"/>
<polygon points="199.80,31.20 208.30,41.20 199.80,51.20" fill="#3aa844"/>
<polygon points="209.00,31.20 214.00,41.20 209.00,51.20" fill="#ffffff" stroke="#aeaeb8" stroke-width="0.5"/>
<polygon points="214.00,31.20 220.00,41.20 214.00,51.20" fill="#3aa844"/>
<polygon points="220.00,31.20 225.50,41.20 220.00,51.20" fill="#ffffff" stroke="#aeaeb8" stroke-width="0.5"/>
<polygon points="225.90,36.60 233.40,36.60 233.40,31.20 243.30,41.20 233.40,51.20 233.40,45.80 225.90,45.80" fill="#3e7bc6"/>
<polygon points="252.60,31.20 243.80,41.20 252.60,51.20" fill="#e0252e"/>
<polygon points="259.00,31.20 255.70,41.20 259.00,51.20" fill="#f5b35f"/>
<polygon points="275.30,36.60 268.00,36.60 268.00,31.20 259.70,41.20 268.00,51.20 268.00,45.80 275.30,45.80" fill="#f5b35f"/>
<polygon points="281.20,31.20 276.70,41.20 281.20,51.20" fill="#f5b35f"/>
<polygon points="283.10,31.20 289.40,41.20 283.10,51.20" fill="#3e7bc6"/>
<polygon points="289.40,31.20 294.90,41.20 289.40,51.20" fill="#3e7bc6"/>
<polygon points="295.00,36.60 319.20,36.60 319.20,31.20 328.10,41.20 319.20,51.20 319.20,45.80 295.00,45.80" fill="#3e7bc6"/>
<polygon points="328.50,31.20 335.60,41.20 328.50,51.20" fill="#3e7bc6"/>
<polygon points="335.60,31.20 343.00,41.20 335.60,51.20" fill="#3e7bc6"/>
<polygon points="343.00,31.20 347.80,41.20 343.00,51.20" fill="#3e7bc6"/>
<polygon points="348.60,36.60 376.50,36.60 376.50,31.20 385.50,41.20 376.50,51.20 376.50,45.80 348.60,45.80" fill="#5d2fa2"/>
<polygon points="386.20,36.60 406.60,36.60 406.60,31.20 415.70,41.20 406.60,51.20 406.60,45.80 386.20,45.80" fill="#5d2fa2"/>
<polygon points="418.70,31.20 421.20,41.20 418.70,51.20" fill="#ffffff" stroke="#aeaeb8" stroke-width="0.5"/>
<polygon points="427.40,31.20 421.20,41.20 427.40,51.20" fill="#a9d0e8"/>
<polygon points="447.90,36.60 437.10,36.60 437.10,31.20 427.80,41.20 437.10,51.20 437.10,45.80 447.90,45.80" fill="#f26a22"/>
<polygon points="458.00,31.20 448.60,41.20 458.00,51.20" fill="#f26a22"/>
<polygon points="458.30,31.20 464.70,41.20 458.30,51.20" fill="#ffffff" stroke="#aeaeb8" stroke-width="0.5"/>
<polygon points="469.00,31.20 463.00,41.20 469.00,51.20" fill="#ffffff" stroke="#aeaeb8" stroke-width="0.5"/>
<polygon points="466.00,31.20 470.70,41.20 466.00,51.20" fill="#ffffff" stroke="#aeaeb8" stroke-width="0.5"/>
<polygon points="502.00,36.60 479.90,36.60 479.90,31.20 471.40,41.20 479.90,51.20 479.90,45.80 502.00,45.80" fill="#f26a22"/>
<polygon points="514.50,31.20 506.30,41.20 514.50,51.20" fill="#f26a22"/>
<polygon points="515.00,31.20 518.00,41.20 515.00,51.20" fill="#ffffff" stroke="#aeaeb8" stroke-width="0.5"/>
<polygon points="536.20,36.60 527.60,36.60 527.60,31.20 518.60,41.20 527.60,51.20 527.60,45.80 536.20,45.80" fill="#f26a22"/>
<polygon points="539.50,31.20 536.60,41.20 539.50,51.20" fill="#cfe3f1" stroke="#9fc4e0" stroke-width="0.5"/>
<polygon points="543.20,31.20 539.00,41.20 543.20,51.20" fill="#ffffff" stroke="#aeaeb8" stroke-width="0.5"/>
<polygon points="548.40,31.20 543.20,41.20 548.40,51.20" fill="#ffffff" stroke="#aeaeb8" stroke-width="0.5"/>
<polygon points="557.40,31.20 549.20,41.20 557.40,51.20" fill="#ffffff" stroke="#aeaeb8" stroke-width="0.5"/>
<polygon points="558.40,31.20 563.30,41.20 558.40,51.20" fill="#e0252e"/>
<polygon points="594.10,36.60 572.30,36.60 572.30,31.20 563.30,41.20 572.30,51.20 572.30,45.80 594.10,45.80" fill="#f26a22"/>
<polygon points="598.50,31.20 595.40,41.20 598.50,51.20" fill="#f26a22"/>
<polygon points="601.00,31.20 597.50,41.20 601.00,51.20" fill="#e0252e"/>
<polygon points="607.40,31.20 610.60,41.20 607.40,51.20" fill="#ffffff" stroke="#aeaeb8" stroke-width="0.5"/>
<polygon points="610.60,31.20 613.50,41.20 610.60,51.20" fill="#ffffff" stroke="#aeaeb8" stroke-width="0.5"/>
<polygon points="613.50,31.20 617.50,41.20 613.50,51.20" fill="#ffffff" stroke="#aeaeb8" stroke-width="0.5"/>
<polygon points="617.50,31.20 622.80,41.20 617.50,51.20" fill="#ffffff" stroke="#aeaeb8" stroke-width="0.5"/>
<polygon points="622.80,31.20 626.50,41.20 622.80,51.20" fill="#ffffff" stroke="#aeaeb8" stroke-width="0.5"/>
<polygon points="626.50,31.20 629.60,41.20 626.50,51.20" fill="#ffffff" stroke="#aeaeb8" stroke-width="0.5"/>
<polygon points="629.60,31.20 632.80,41.20 629.60,51.20" fill="#ffffff" stroke="#aeaeb8" stroke-width="0.5"/>
<polygon points="634.50,31.20 639.70,41.20 634.50,51.20" fill="#ffffff" stroke="#aeaeb8" stroke-width="0.5"/>
<polygon points="640.40,31.20 644.60,41.20 640.40,51.20" fill="#b97c85"/>
<polygon points="644.30,31.20 651.30,41.20 644.30,51.20" fill="#b97c85"/>
<polygon points="654.00,31.20 656.60,41.20 654.00,51.20" fill="#ffffff" stroke="#aeaeb8" stroke-width="0.5"/>
<polygon points="656.60,31.20 659.30,41.20 656.60,51.20" fill="#ffffff" stroke="#aeaeb8" stroke-width="0.5"/>
<polygon points="659.30,31.20 662.40,41.20 659.30,51.20" fill="#ffffff" stroke="#aeaeb8" stroke-width="0.5"/>
<polygon points="662.40,31.20 666.70,41.20 662.40,51.20" fill="#ffffff" stroke="#aeaeb8" stroke-width="0.5"/>
<polygon points="110.00,30.70 120.80,30.70 115.60,39.80" fill="#7ed7d0" stroke="#5fb8b4" stroke-width="0.4"/>
<polygon points="456.50,30.70 467.00,30.70 461.70,39.80" fill="#7ed7d0" stroke="#5fb8b4" stroke-width="0.4"/>
<polygon points="510.10,30.70 520.90,30.70 515.60,39.80" fill="#7ed7d0" stroke="#5fb8b4" stroke-width="0.4"/>
<polygon points="596.50,30.70 607.30,30.70 602.00,39.80" fill="#7ed7d0" stroke="#5fb8b4" stroke-width="0.4"/>
<polygon points="611.50,30.70 622.70,30.70 617.00,39.80" fill="#7ed7d0" stroke="#5fb8b4" stroke-width="0.4"/>
<polygon points="647.00,30.70 658.30,30.70 652.70,39.80" fill="#7ed7d0" stroke="#5fb8b4" stroke-width="0.4"/>
</g>
<g id="ent1">
<line x1="41.7" y1="128.7" x2="661.6" y2="128.7" stroke="#000" stroke-width="2"/>
<polygon points="41.70,118.70 48.90,128.70 41.70,138.70" fill="#f4ec86"/>
<polygon points="49.90,124.10 59.30,124.10 59.30,118.70 67.40,128.70 59.30,138.70 59.30,133.30 49.90,133.30" fill="#f4ec86"/>
<polygon points="68.60,124.10 80.80,124.10 80.80,118.70 90.20,128.70 80.80,138.70 80.80,133.30 68.60,133.30" fill="#f4ec86"/>
<polygon points="100.10,118.70 90.50,128.70 100.10,138.70" fill="#ffffff" stroke="#aeaeb8" stroke-width="0.5"/>
<polygon points="103.10,124.10 108.30,124.10 108.30,118.70 117.30,128.70 108.30,138.70 108.30,133.30 103.10,133.30" fill="#3aa844"/>
<polygon points="118.00,118.70 124.40,128.70 118.00,138.70" fill="#3aa844"/>
<polygon points="130.00,118.70 133.50,128.70 130.00,138.70" fill="#ffffff" stroke="#aeaeb8" stroke-width="0.5"/>
<polygon points="132.50,118.70 135.40,128.70 132.50,138.70" fill="#ffffff" stroke="#aeaeb8" stroke-width="0.5"/>
<polygon points="137.80,118.70 147.00,128.70 137.80,138.70" fill="#3aa844"/>
<polygon points="148.30,124.10 153.80,124.10 153.80,118.70 162.70,128.70 153.80,138.70 153.80,133.30 148.30,133.30" fill="#3aa844"/>
<polygon points="164.20,118.70 168.00,128.70 164.20,138.70" fill="#3aa844"/>
<polygon points="168.70,118.70 173.60,128.70 168.70,138.70" fill="#3aa844"/>
<polygon points="174.20,118.70 176.60,128.70 174.20,138.70" fill="#ffffff" stroke="#aeaeb8" stroke-width="0.5"/>
<polygon points="177.70,118.70 184.40,128.70 177.70,138.70" fill="#ffffff" stroke="#aeaeb8" stroke-width="0.5"/>
<polygon points="184.80,118.70 193.30,128.70 184.80,138.70" fill="#3aa844"/>
<polygon points="194.00,118.70 198.50,128.70 194.00,138.70" fill="#ffffff" stroke="#aeaeb8" stroke-width="0.5"/>
<polygon points="199.00,118.70 204.50,128.70 199.00,138.70" fill="#3aa844"/>
<polygon points="204.50,118.70 210.00,128.70 204.50,138.70" fill="#ffffff" stroke="#aeaeb8" stroke-width="0.5"/>
<polygon points="210.50,124.10 217.90,124.10 217.90,118.70 227.90,128.70 217.90,138.70 217.90,133.30 210.50,133.30" fill="#3e7bc6"/>
<polygon points="237.70,118.70 228.80,128.70 237.70,138.70" fill="#e0252e"/>
<polygon points="242.80,118.70 239.80,128.70 242.80,138.70" fill="#f5b35f"/>
<polygon points="250.40,118.70 243.20,128.70 250.40,138.70" fill="#a9d0e8"/>
<polygon points="267.40,124.10 259.80,124.10 259.80,118.70 251.30,128.70 259.80,138.70 259.80,133.30 267.40,133.30" fill="#f5b35f"/>
<polygon points="271.50,118.70 268.80,128.70 271.50,138.70" fill="#f5b35f"/>
<polygon points="273.00,118.70 279.30,128.70 273.00,138.70" fill="#3e7bc6"/>
<polygon points="279.60,118.70 284.50,128.70 279.60,138.70" fill="#3e7bc6"/>
<polygon points="285.00,124.10 309.10,124.10 309.10,118.70 318.00,128.70 309.10,138.70 309.10,133.30 285.00,133.30" fill="#3e7bc6"/>
<polygon points="318.80,118.70 325.50,128.70 318.80,138.70" fill="#3e7bc6"/>
<polygon points="325.80,118.70 333.00,128.70 325.80,138.70" fill="#3e7bc6"/>
<polygon points="333.20,118.70 338.40,128.70 333.20,138.70" fill="#3e7bc6"/>
<polygon points="338.90,124.10 367.00,124.10 367.00,118.70 375.90,128.70 367.00,138.70 367.00,133.30 338.90,133.30" fill="#5d2fa2"/>
<polygon points="376.50,124.10 397.00,124.10 397.00,118.70 406.80,128.70 397.00,138.70 397.00,133.30 376.50,133.30" fill="#5d2fa2"/>
<polygon points="408.50,118.70 411.20,128.70 408.50,138.70" fill="#ffffff" stroke="#aeaeb8" stroke-width="0.5"/>
<polygon points="446.40,124.10 420.30,124.10 420.30,118.70 411.70,128.70 420.30,138.70 420.30,133.30 446.40,133.30" fill="#f26a22"/>
<polygon points="451.50,118.70 447.90,128.70 451.50,138.70" fill="#ffffff" stroke="#aeaeb8" stroke-width="0.5"/>
<polygon points="451.50,118.70 455.00,128.70 451.50,138.70" fill="#ffffff" stroke="#aeaeb8" stroke-width="0.5"/>
<polygon points="500.40,124.10 464.90,124.10 464.90,118.70 456.40,128.70 464.90,138.70 464.90,133.30 500.40,133.30" fill="#f26a22"/>
<polygon points="510.60,118.70 501.70,128.70 510.60,138.70" fill="#f26a22"/>
<polygon points="511.80,118.70 514.80,128.70 511.80,138.70" fill="#ffffff" stroke="#aeaeb8" stroke-width="0.5"/>
<polygon points="534.90,124.10 524.00,124.10 524.00,118.70 515.60,128.70 524.00,138.70 524.00,133.30 534.90,133.30" fill="#f26a22"/>
<polygon points="543.90,118.70 536.00,128.70 543.90,138.70" fill="#ffffff" stroke="#aeaeb8" stroke-width="0.5"/>
<polygon points="545.40,118.70 548.80,128.70 545.40,138.70" fill="#e0252e"/>
<polygon points="580.80,124.10 558.80,124.10 558.80,118.70 549.40,128.70 558.80,138.70 558.80,133.30 580.80,133.30" fill="#f26a22"/>
<polygon points="585.50,118.70 582.20,128.70 585.50,138.70" fill="#f26a22"/>
<polygon points="587.80,118.70 585.50,128.70 587.80,138.70" fill="#e0252e"/>
<polygon points="602.30,118.70 606.30,128.70 602.30,138.70" fill="#ffffff" stroke="#aeaeb8" stroke-width="0.5"/>
<polygon points="606.30,118.70 609.70,128.70 606.30,138.70" fill="#ffffff" stroke="#aeaeb8" stroke-width="0.5"/>
<polygon points="609.70,118.70 614.30,128.70 609.70,138.70" fill="#ffffff" stroke="#aeaeb8" stroke-width="0.5"/>
<polygon points="614.30,118.70 621.20,128.70 614.30,138.70" fill="#ffffff" stroke="#aeaeb8" stroke-width="0.5"/>
<polygon points="622.70,118.70 626.50,128.70 622.70,138.70" fill="#ffffff" stroke="#aeaeb8" stroke-width="0.5"/>
<polygon points="626.90,118.70 631.40,128.70 626.90,138.70" fill="#b97c85"/>
<polygon points="630.60,118.70 637.30,128.70 630.60,138.70" fill="#b97c85"/>
<polygon points="640.20,118.70 643.40,128.70 640.20,138.70" fill="#ffffff" stroke="#aeaeb8" stroke-width="0.5"/>
<polygon points="643.40,118.70 645.70,128.70 643.40,138.70" fill="#ffffff" stroke="#aeaeb8" stroke-width="0.5"/>
<polygon points="645.70,118.70 648.70,128.70 645.70,138.70" fill="#ffffff" stroke="#aeaeb8" stroke-width="0.5"/>
<polygon points="648.70,118.70 651.90,128.70 648.70,138.70" fill="#ffffff" stroke="#aeaeb8" stroke-width="0.5"/>
<polygon points="651.90,118.70 656.60,128.70 651.90,138.70" fill="#ffffff" stroke="#aeaeb8" stroke-width="0.5"/>
<polygon points="656.60,118.70 661.40,128.70 656.60,138.70" fill="#ffffff" stroke="#aeaeb8" stroke-width="0.5"/>
<polygon points="85.10,119.00 95.70,119.00 90.40,128.70" fill="#b946b5"/>
<polygon points="119.10,119.00 129.70,119.00 124.40,128.70" fill="#b946b5"/>
<polygon points="131.70,119.00 142.30,119.00 137.00,128.70" fill="#b946b5"/>
<polygon points="158.20,119.00 168.80,119.00 163.50,128.70" fill="#b946b5"/>
<polygon points="168.50,119.00 179.10,119.00 173.80,128.70" fill="#b946b5"/>
<polygon points="222.60,119.00 233.20,119.00 227.90,128.70" fill="#b946b5"/>
<polygon points="234.10,119.00 244.70,119.00 239.40,128.70" fill="#b946b5"/>
<polygon points="401.50,119.00 412.10,119.00 406.80,128.70" fill="#b946b5"/>
<polygon points="496.20,119.00 506.80,119.00 501.50,128.70" fill="#b946b5"/>
<polygon points="530.50,119.00 541.10,119.00 535.80,128.70" fill="#b946b5"/>
<polygon points="543.40,119.00 554.00,119.00 548.70,128.70" fill="#b946b5"/>
<polygon points="616.70,119.00 627.30,119.00 622.00,128.70" fill="#b946b5"/>
<polygon points="633.40,119.00 644.00,119.00 638.70,128.70" fill="#b946b5"/>
</g>
<text x="1.8" y="43.9" font-size="9.60" textLength="28.0" lengthAdjust="spacingAndGlyphs" font-weight="bold" fill="#000" stroke="#000" stroke-width="0.25">Jersey</text>
<text x="4.0" y="130.9" font-size="9.60" textLength="20.0" lengthAdjust="spacingAndGlyphs" font-weight="bold" fill="#000" stroke="#000" stroke-width="0.25">Ent1</text>
<g id="labels">
<text transform="translate(35.8,146.7) rotate(45)" font-size="8.8" stroke="#1a1a1a" stroke-width="0.2" textLength="98.7" lengthAdjust="spacingAndGlyphs">Terminase, small subunit</text>
<text transform="translate(55.9,145.1) rotate(45)" font-size="8.8" stroke="#1a1a1a" stroke-width="0.2" textLength="96.5" lengthAdjust="spacingAndGlyphs">Terminase, large subunit</text>
<text transform="translate(77.7,144.7) rotate(45)" font-size="8.8" stroke="#1a1a1a" stroke-width="0.2" textLength="55.9" lengthAdjust="spacingAndGlyphs">Portal protein</text>
<text transform="translate(102.7,144.7) rotate(45)" font-size="8.8" stroke="#1a1a1a" stroke-width="0.2" textLength="116.1" lengthAdjust="spacingAndGlyphs">Head morphogenesis protein</text>
<text transform="translate(133.0,144.7) rotate(45)" font-size="8.8" stroke="#1a1a1a" stroke-width="0.2" textLength="64.6" lengthAdjust="spacingAndGlyphs">Scaffold protein</text>
<text transform="translate(148.1,144.7) rotate(45)" font-size="8.8" stroke="#1a1a1a" stroke-width="0.2" textLength="76.2" lengthAdjust="spacingAndGlyphs">Major coat protein</text>
<text transform="translate(213.8,144.9) rotate(45)" font-size="8.8" stroke="#1a1a1a" stroke-width="0.2" textLength="69.4" lengthAdjust="spacingAndGlyphs">Major tail protein</text>
<text transform="translate(230.8,144.9) rotate(45)" font-size="8.8" stroke="#1a1a1a" stroke-width="0.2" textLength="82.0" lengthAdjust="spacingAndGlyphs">DNA binding protein</text>
<text transform="translate(257.6,144.9) rotate(45)" font-size="8.8" stroke="#1a1a1a" stroke-width="0.2" textLength="84.3" lengthAdjust="spacingAndGlyphs">Ser/Thr phosphatase</text>
<text transform="translate(270.8,144.9) rotate(45)" font-size="8.8" stroke="#1a1a1a" stroke-width="0.2" textLength="91.7" lengthAdjust="spacingAndGlyphs">Tail chaperone protein</text>
<text transform="translate(304.6,144.9) rotate(45)" font-size="8.8" stroke="#1a1a1a" stroke-width="0.2" textLength="88.7" lengthAdjust="spacingAndGlyphs">Tape measure protein</text>
<text transform="translate(349.8,144.9) rotate(45)" font-size="8.8" stroke="#1a1a1a" stroke-width="0.2" textLength="66.6" lengthAdjust="spacingAndGlyphs">Tail fibre protein</text>
<text transform="translate(380.1,144.9) rotate(45)" font-size="8.8" stroke="#1a1a1a" stroke-width="0.2" textLength="69.5" lengthAdjust="spacingAndGlyphs">Tail spike protein</text>
<text transform="translate(423.7,145.5) rotate(45)" font-size="8.8" stroke="#1a1a1a" stroke-width="0.2" textLength="52.9" lengthAdjust="spacingAndGlyphs">DNA helicase</text>
<text transform="translate(474.2,145.5) rotate(45)" font-size="8.8" stroke="#1a1a1a" stroke-width="0.2" textLength="68.4" lengthAdjust="spacingAndGlyphs">DNA polymerase</text>
<text transform="translate(564.3,145.5) rotate(45)" font-size="8.8" stroke="#1a1a1a" stroke-width="0.2" textLength="34.6" lengthAdjust="spacingAndGlyphs">Primase</text>
<text transform="translate(619.2,145.2) rotate(45)" font-size="8.8" stroke="#1a1a1a" stroke-width="0.2" textLength="20.3" lengthAdjust="spacingAndGlyphs">Holin</text>
<text transform="translate(632.9,145.5) rotate(45)" font-size="8.8" stroke="#1a1a1a" stroke-width="0.2" textLength="36.8" lengthAdjust="spacingAndGlyphs">Endolysin</text>
</g>
<g id="legend" stroke="#1a1a1a" stroke-width="0.15">
<path d="M32.4 259.4H105.8M32.4 255V264.4M105.8 255V264.4" stroke="#8a8a8a" stroke-width="1" fill="none"/>
<text x="56.7" y="252.0" font-size="9.10" textLength="23.3" lengthAdjust="spacingAndGlyphs">5 Kbp</text>
<rect x="114.5" y="240.0" width="16.7" height="12.7" fill="#f4ec86" stroke="#333" stroke-width="0.9"/>
<text x="138.5" y="251.0" font-size="9.10" textLength="60.8" lengthAdjust="spacingAndGlyphs">DNA packaging</text>
<rect x="114.5" y="255.4" width="16.7" height="12.3" fill="#3aa844" stroke="#333" stroke-width="0.9"/>
<text x="138.5" y="266.3" font-size="9.10" textLength="27.4" lengthAdjust="spacingAndGlyphs">Capsid</text>
<rect x="114.5" y="270.0" width="16.7" height="12.8" fill="#3e7bc6" stroke="#333" stroke-width="0.9"/>
<text x="138.5" y="280.6" font-size="9.10" textLength="15.0" lengthAdjust="spacingAndGlyphs">Tail</text>
<rect x="215.0" y="240.0" width="17.4" height="12.7" fill="#e0252e" stroke="#333" stroke-width="0.9"/>
<text x="240.0" y="251.0" font-size="9.10" textLength="50.0" lengthAdjust="spacingAndGlyphs">DNA binding</text>
<rect x="215.0" y="255.4" width="17.4" height="12.3" fill="#f5b35f" stroke="#333" stroke-width="0.9"/>
<text x="240.0" y="266.3" font-size="9.10" textLength="38.4" lengthAdjust="spacingAndGlyphs">Immunity</text>
<rect x="215.0" y="270.0" width="17.4" height="12.8" fill="#a9d0e8" stroke="#333" stroke-width="0.9"/>
<text x="240.0" y="280.6" font-size="9.10" textLength="88.5" lengthAdjust="spacingAndGlyphs">Homing endonuclease</text>
<rect x="339.5" y="240.0" width="17.4" height="12.7" fill="#5d2fa2" stroke="#333" stroke-width="0.9"/>
<text x="364.2" y="251.0" font-size="9.10" textLength="58.8" lengthAdjust="spacingAndGlyphs">Host specificity</text>
<rect x="339.5" y="255.4" width="17.4" height="12.3" fill="#f26a22" stroke="#333" stroke-width="0.9"/>
<text x="364.2" y="266.3" font-size="9.10" textLength="44.4" lengthAdjust="spacingAndGlyphs">Replication</text>
<rect x="339.5" y="270.0" width="17.4" height="12.8" fill="#b97c85" stroke="#333" stroke-width="0.9"/>
<text x="364.2" y="280.6" font-size="9.10" textLength="18.8" lengthAdjust="spacingAndGlyphs">Lysis</text>
<rect x="444.2" y="240.9" width="18.4" height="13.3" fill="#fff" stroke="#333" stroke-width="0.9"/>
<polygon points="444.2,256.7 462.6,256.7 453.4,268.9" fill="#7ed7d0" stroke="#333" stroke-width="0.9"/>
<polygon points="444.2,270.7 462.6,270.7 453.4,283.6" fill="#c04cae" stroke="#333" stroke-width="0.9"/>
<text x="469.3" y="252.0" font-size="9.10" textLength="82.7" lengthAdjust="spacingAndGlyphs">Hypothetical protein</text>
<text x="469.3" y="266.4" font-size="9.10" textLength="38.7" lengthAdjust="spacingAndGlyphs">Promoter</text>
<text x="469.3" y="279.5" font-size="9.10" textLength="114.7" lengthAdjust="spacingAndGlyphs">Rho independent terminator</text>
<text x="583.4" y="216.2" font-size="9.10" textLength="65.1" lengthAdjust="spacingAndGlyphs">tBLASTx identity</text>
<defs><linearGradient id="gg" x1="0" y1="0" x2="0" y2="1"><stop offset="0" stop-color="#606060"/><stop offset="1" stop-color="#c4c4c4"/></linearGradient></defs>
<rect x="608" y="221.8" width="9.2" height="61.8" fill="url(#gg)" stroke="none"/>
<text x="620.2" y="228.4" font-size="9.10" textLength="21.7" lengthAdjust="spacingAndGlyphs">100%</text>
<text x="620.9" y="281.8" font-size="9.10" textLength="15.8" lengthAdjust="spacingAndGlyphs">25%</text>
</g>
</svg>
</body></html>
